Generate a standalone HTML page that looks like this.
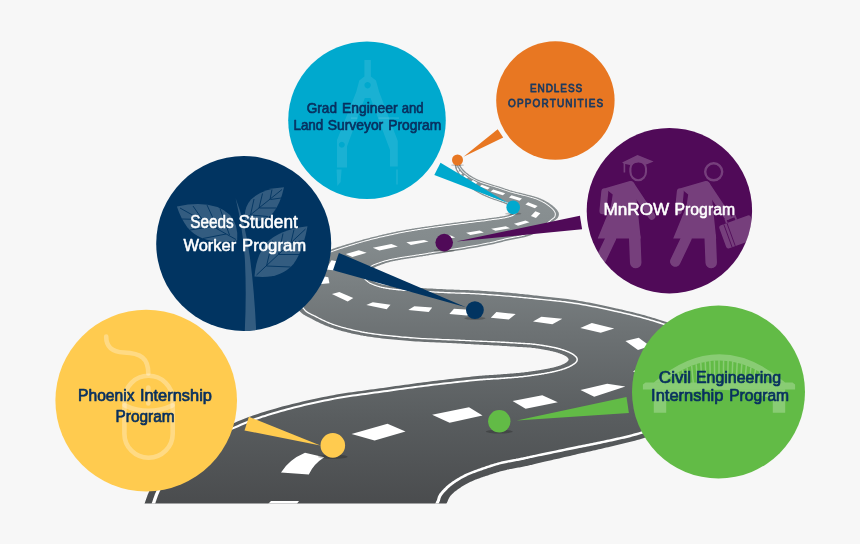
<!DOCTYPE html>
<html><head><meta charset="utf-8"><title>Career Pathways</title>
<style>
html,body{margin:0;padding:0;background:#f7f7f7;}
body{width:860px;height:544px;overflow:hidden;font-family:"Liberation Sans",sans-serif;}
svg{display:block;}
</style></head><body>
<svg width="860" height="544" viewBox="0 0 860 544">
<defs>
<linearGradient id="rg" gradientUnits="userSpaceOnUse" x1="0" y1="160" x2="0" y2="504">
<stop offset="0" stop-color="#8f9698"/><stop offset="0.25" stop-color="#838a8c"/><stop offset="0.5" stop-color="#6d7274"/><stop offset="0.75" stop-color="#595d5f"/><stop offset="1" stop-color="#4a4c4e"/>
</linearGradient>
<mask id="tm" maskUnits="userSpaceOnUse" x="0" y="0" width="860" height="544"><rect width="860" height="544" fill="#fff"/></mask>
<clipPath id="clip"><rect x="0" y="0" width="860" height="503.5"/></clipPath>
</defs>
<rect width="860" height="544" fill="#f7f7f7"/>
<g clip-path="url(#clip)">
<polygon points="140.5,515.0 140.8,514.3 141.0,513.6 141.3,512.8 141.5,512.1 141.8,511.4 142.0,510.7 142.3,510.0 142.5,509.3 142.8,508.5 143.0,507.8 143.3,507.1 143.6,506.4 143.8,505.7 144.1,504.9 144.3,504.2 144.6,503.5 144.9,502.8 145.1,502.0 145.4,501.3 145.6,500.6 145.9,499.9 146.1,499.1 146.4,498.4 146.6,497.7 146.9,497.0 147.2,496.2 147.4,495.5 147.7,494.7 148.0,494.0 148.4,493.2 148.7,492.4 149.1,491.6 149.6,490.5 150.1,489.4 150.7,488.3 151.2,487.2 151.8,486.1 152.4,484.9 153.1,483.7 153.7,482.5 154.4,481.3 155.1,480.2 155.8,479.0 156.6,477.8 157.4,476.6 158.2,475.4 159.1,474.2 160.0,473.0 161.2,471.5 162.4,470.0 163.7,468.5 165.1,467.0 166.5,465.4 167.9,463.9 169.4,462.4 170.9,460.9 172.5,459.3 174.2,457.8 175.8,456.3 177.6,454.8 179.4,453.3 181.2,451.9 183.1,450.4 185.0,449.0 187.6,447.2 190.3,445.4 193.2,443.6 196.2,441.8 199.3,440.0 202.5,438.2 205.8,436.4 209.1,434.7 212.5,433.0 215.8,431.3 219.2,429.7 222.5,428.2 225.8,426.6 229.1,425.2 232.2,423.7 235.3,422.4 237.9,421.3 240.5,420.2 243.0,419.2 245.5,418.2 248.0,417.3 250.4,416.4 252.9,415.5 255.3,414.7 257.8,413.9 260.3,413.1 262.8,412.3 265.3,411.5 267.8,410.7 270.4,410.0 273.1,409.2 275.8,408.4 279.0,407.5 282.2,406.6 285.5,405.7 288.8,404.9 292.2,404.0 295.6,403.2 299.0,402.4 302.5,401.6 305.9,400.8 309.4,400.0 312.9,399.3 316.4,398.5 319.8,397.8 323.3,397.1 326.6,396.4 330.0,395.8 333.2,395.2 336.3,394.6 339.5,394.1 342.6,393.6 345.7,393.1 348.9,392.6 352.0,392.2 355.1,391.7 358.2,391.3 361.3,390.9 364.4,390.4 367.5,390.0 370.6,389.6 373.8,389.2 376.9,388.7 380.0,388.3 383.1,387.9 386.2,387.4 389.4,387.0 392.5,386.5 395.6,386.1 398.7,385.7 401.9,385.2 405.0,384.8 408.1,384.4 411.2,383.9 414.4,383.5 417.5,383.1 420.6,382.7 423.7,382.3 426.9,381.9 430.0,381.5 433.2,381.1 436.4,380.7 439.7,380.3 443.0,379.9 446.4,379.5 449.7,379.1 453.1,378.7 456.4,378.3 459.7,377.9 462.9,377.6 466.0,377.2 469.1,376.9 472.0,376.6 474.8,376.3 477.5,376.0 480.0,375.8 481.5,375.7 482.9,375.5 484.3,375.4 485.6,375.3 486.9,375.2 488.2,375.2 489.4,375.1 490.6,375.0 491.7,374.9 492.9,374.9 494.1,374.8 495.2,374.7 496.4,374.7 497.6,374.6 498.8,374.5 500.0,374.4 501.3,374.3 502.5,374.2 503.8,374.1 505.1,374.0 506.5,373.9 507.8,373.8 509.1,373.7 510.4,373.6 511.7,373.5 512.9,373.4 514.2,373.3 515.4,373.2 516.6,373.1 517.8,373.0 518.9,372.9 520.0,372.8 520.8,372.7 521.5,372.6 522.3,372.6 523.0,372.5 523.7,372.4 524.4,372.3 525.0,372.2 525.7,372.1 526.4,372.0 527.0,372.0 527.7,371.9 528.3,371.8 529.0,371.7 529.6,371.6 530.3,371.5 531.0,371.4 531.7,371.3 532.4,371.2 533.1,371.1 533.8,371.0 534.5,370.9 535.2,370.8 535.9,370.7 536.6,370.6 537.2,370.5 537.9,370.4 538.6,370.3 539.3,370.2 540.0,370.1 540.7,369.9 541.4,369.8 542.1,369.7 542.8,369.6 543.5,369.5 544.2,369.3 544.9,369.2 545.6,369.1 546.3,368.9 547.0,368.8 547.7,368.7 548.4,368.5 549.1,368.4 549.8,368.3 550.4,368.1 551.1,368.0 551.8,367.8 552.4,367.7 553.1,367.5 553.7,367.4 554.3,367.2 554.9,367.0 555.4,366.9 556.0,366.7 556.6,366.6 557.2,366.4 557.7,366.3 558.3,366.1 558.9,365.9 559.4,365.7 559.9,365.6 560.4,365.4 560.9,365.2 561.4,365.0 561.9,364.8 562.3,364.6 562.6,364.5 563.0,364.3 563.3,364.2 563.7,364.0 564.0,363.8 564.4,363.7 564.7,363.5 565.0,363.3 565.3,363.1 565.6,362.9 565.9,362.8 566.2,362.6 566.4,362.4 566.7,362.2 566.9,362.0 567.1,361.9 567.2,361.7 567.4,361.6 567.5,361.4 567.7,361.3 567.8,361.1 567.9,361.0 568.1,360.8 568.2,360.7 568.3,360.5 568.4,360.4 568.4,360.2 568.5,360.1 568.6,359.9 568.6,359.8 568.6,359.6 568.6,359.4 568.6,359.3 568.5,359.1 568.5,358.9 568.4,358.8 568.3,358.6 568.2,358.4 568.1,358.3 567.9,358.1 567.8,357.9 567.7,357.8 567.5,357.6 567.4,357.5 567.2,357.3 567.1,357.1 566.9,357.0 566.7,356.8 566.4,356.6 566.2,356.4 565.9,356.2 565.6,356.1 565.3,355.9 565.0,355.7 564.7,355.6 564.4,355.4 564.0,355.2 563.7,355.1 563.3,354.9 563.0,354.8 562.6,354.6 562.3,354.5 561.9,354.3 561.4,354.1 560.9,353.9 560.4,353.7 559.9,353.5 559.4,353.3 558.8,353.2 558.3,353.0 557.7,352.8 557.2,352.6 556.6,352.5 556.0,352.3 555.4,352.1 554.9,352.0 554.3,351.8 553.7,351.7 553.1,351.5 552.5,351.3 551.8,351.2 551.1,351.0 550.4,350.9 549.8,350.7 549.1,350.6 548.4,350.4 547.7,350.3 547.0,350.2 546.3,350.0 545.6,349.9 544.9,349.8 544.2,349.7 543.5,349.5 542.8,349.4 542.1,349.3 541.4,349.2 540.7,349.1 540.0,349.0 539.3,348.8 538.6,348.7 537.9,348.6 537.3,348.5 536.6,348.4 535.9,348.3 535.2,348.2 534.5,348.1 533.8,348.0 533.1,347.9 532.4,347.9 531.7,347.8 531.0,347.7 530.3,347.6 529.6,347.6 529.0,347.5 528.3,347.5 527.7,347.4 527.0,347.4 526.4,347.3 525.7,347.3 525.0,347.3 524.4,347.2 523.7,347.2 523.0,347.2 522.3,347.1 521.5,347.1 520.8,347.0 520.0,347.0 518.9,346.9 517.8,346.9 516.6,346.8 515.4,346.7 514.2,346.6 512.9,346.5 511.7,346.4 510.4,346.4 509.1,346.3 507.8,346.2 506.4,346.1 505.1,346.0 503.8,345.9 502.5,345.9 501.3,345.8 500.0,345.7 498.8,345.6 497.5,345.6 496.3,345.5 495.0,345.4 493.8,345.4 492.6,345.3 491.4,345.3 490.1,345.2 488.9,345.1 487.6,345.1 486.4,345.0 485.1,345.0 483.9,344.9 482.6,344.8 481.3,344.8 480.0,344.7 478.6,344.6 477.1,344.5 475.7,344.5 474.3,344.4 472.9,344.3 471.4,344.2 470.0,344.1 468.5,344.0 467.0,343.9 465.5,343.9 464.0,343.8 462.4,343.7 460.8,343.6 459.2,343.5 457.5,343.4 455.8,343.3 453.3,343.2 450.8,343.1 448.1,342.9 445.3,342.8 442.5,342.7 439.6,342.6 436.7,342.5 433.7,342.3 430.7,342.2 427.7,342.1 424.7,341.9 421.7,341.8 418.7,341.6 415.7,341.4 412.8,341.2 410.0,341.0 407.3,340.8 404.5,340.6 401.7,340.3 398.9,340.1 396.0,339.8 393.2,339.5 390.4,339.3 387.6,339.0 384.9,338.7 382.1,338.4 379.5,338.1 376.9,337.7 374.3,337.4 371.9,337.1 369.5,336.7 367.2,336.4 365.6,336.1 364.0,335.9 362.5,335.6 361.1,335.4 359.6,335.1 358.2,334.8 356.8,334.5 355.5,334.3 354.1,334.0 352.8,333.7 351.5,333.4 350.2,333.1 348.9,332.8 347.6,332.5 346.3,332.1 345.0,331.8 343.8,331.5 342.7,331.2 341.5,330.9 340.4,330.5 339.2,330.2 338.1,329.9 337.0,329.6 335.8,329.2 334.7,328.9 333.6,328.5 332.6,328.1 331.5,327.8 330.4,327.4 329.3,327.0 328.3,326.6 327.2,326.2 326.2,325.8 325.2,325.4 324.2,325.0 323.2,324.5 322.2,324.1 321.3,323.7 320.3,323.2 319.3,322.8 318.4,322.3 317.4,321.8 316.5,321.4 315.6,320.9 314.7,320.4 313.8,319.9 312.9,319.5 312.0,319.0 311.2,318.6 310.4,318.2 309.7,317.8 308.9,317.4 308.2,317.1 307.4,316.7 306.7,316.3 306.0,315.9 305.2,315.5 304.5,315.1 303.8,314.7 303.1,314.2 302.5,313.7 301.8,313.2 301.1,312.6 300.5,312.0 299.7,311.2 298.9,310.3 298.1,309.4 297.3,308.5 296.5,307.5 295.8,306.4 295.0,305.3 294.3,304.2 293.6,303.1 292.9,302.0 292.3,300.8 291.7,299.6 291.2,298.5 290.7,297.3 290.3,296.1 290.0,295.0 289.7,293.9 289.5,292.7 289.3,291.5 289.2,290.3 289.1,289.1 289.0,287.9 289.0,286.7 289.1,285.4 289.1,284.2 289.3,283.0 289.4,281.7 289.7,280.5 289.9,279.4 290.2,278.2 290.6,277.1 291.0,276.0 291.5,274.9 292.1,273.8 292.7,272.6 293.4,271.6 294.1,270.5 294.9,269.4 295.8,268.4 296.7,267.3 297.6,266.3 298.6,265.4 299.6,264.4 300.6,263.5 301.7,262.5 302.8,261.7 303.9,260.8 305.0,260.0 306.4,259.1 307.8,258.2 309.3,257.4 310.9,256.7 312.6,255.9 314.3,255.2 316.0,254.6 317.8,253.9 319.5,253.3 321.3,252.7 323.1,252.1 324.8,251.6 326.5,251.0 328.1,250.5 329.7,249.9 331.2,249.4 332.3,249.0 333.5,248.6 334.6,248.2 335.7,247.8 336.7,247.5 337.8,247.1 338.8,246.8 339.9,246.5 340.9,246.2 341.9,245.8 342.9,245.5 343.9,245.2 344.9,244.9 345.9,244.6 346.9,244.3 347.9,244.0 348.8,243.7 349.7,243.4 350.6,243.2 351.4,242.9 352.3,242.7 353.2,242.4 354.0,242.2 354.9,241.9 355.7,241.6 356.6,241.4 357.4,241.2 358.3,240.9 359.2,240.7 360.1,240.4 361.0,240.2 361.9,239.9 363.0,239.6 364.0,239.3 365.1,239.0 366.2,238.7 367.3,238.5 368.4,238.2 369.5,237.9 370.6,237.6 371.8,237.3 372.9,237.0 374.1,236.7 375.2,236.4 376.4,236.2 377.6,235.9 378.8,235.6 380.0,235.3 381.4,235.0 382.8,234.6 384.3,234.3 385.8,234.0 387.3,233.6 388.8,233.3 390.4,233.0 391.9,232.6 393.5,232.3 395.0,232.0 396.5,231.6 398.0,231.3 399.5,231.0 400.9,230.7 402.3,230.5 403.7,230.2 404.8,230.0 405.9,229.8 406.9,229.6 407.9,229.4 409.0,229.3 410.0,229.1 410.9,228.9 411.9,228.8 412.9,228.6 413.9,228.4 414.9,228.3 415.9,228.1 416.9,228.0 417.9,227.8 418.9,227.7 420.0,227.5 421.2,227.3 422.4,227.1 423.6,227.0 424.8,226.8 426.0,226.6 427.3,226.4 428.5,226.2 429.7,226.0 431.0,225.9 432.3,225.7 433.5,225.5 434.8,225.3 436.1,225.1 437.4,225.0 438.7,224.8 440.0,224.6 441.5,224.4 442.9,224.2 444.4,224.0 445.9,223.8 447.4,223.6 449.0,223.4 450.5,223.2 452.0,223.0 453.6,222.8 455.1,222.6 456.7,222.4 458.2,222.2 459.8,222.0 461.3,221.8 462.9,221.6 464.4,221.4 465.9,221.2 467.5,221.0 469.0,220.8 470.6,220.6 472.2,220.4 473.8,220.2 475.3,220.0 476.9,219.8 478.5,219.6 480.0,219.5 481.5,219.3 483.0,219.1 484.5,218.9 486.0,218.7 487.4,218.5 488.8,218.3 489.9,218.1 491.1,218.0 492.2,217.8 493.3,217.7 494.4,217.5 495.5,217.4 496.6,217.3 497.7,217.1 498.7,217.0 499.7,216.8 500.7,216.6 501.7,216.5 502.6,216.3 503.5,216.2 504.3,216.0 505.1,215.8 505.6,215.7 506.0,215.6 506.4,215.5 506.9,215.4 507.3,215.3 507.7,215.2 508.1,215.0 508.4,214.9 508.8,214.8 509.1,214.7 509.5,214.6 509.8,214.4 510.1,214.3 510.4,214.1 510.7,214.0 511.0,213.8 511.2,213.7 511.4,213.5 511.6,213.4 511.9,213.2 512.1,213.0 512.3,212.9 512.5,212.7 512.6,212.5 512.8,212.3 513.0,212.1 513.1,212.0 513.2,211.8 513.3,211.6 513.4,211.4 513.5,211.2 513.5,211.0 513.5,210.8 513.5,210.6 513.4,210.4 513.4,210.2 513.3,209.9 513.2,209.7 513.1,209.5 512.9,209.2 512.8,209.0 512.6,208.8 512.5,208.6 512.3,208.3 512.1,208.1 511.9,207.9 511.7,207.7 511.5,207.5 511.2,207.2 510.9,207.0 510.6,206.7 510.3,206.5 509.9,206.3 509.6,206.0 509.2,205.8 508.8,205.6 508.4,205.4 507.9,205.1 507.5,204.9 507.0,204.7 506.6,204.5 506.1,204.3 505.6,204.0 505.1,203.8 504.3,203.4 503.4,203.1 502.5,202.7 501.5,202.4 500.5,202.0 499.5,201.7 498.4,201.3 497.4,201.0 496.3,200.6 495.2,200.3 494.1,199.9 493.0,199.5 491.9,199.1 490.8,198.7 489.8,198.3 488.8,197.9 487.8,197.5 486.9,197.1 485.9,196.7 485.0,196.2 484.0,195.8 483.1,195.4 482.1,194.9 481.2,194.5 480.3,194.0 479.4,193.5 478.5,193.1 477.6,192.6 476.7,192.1 475.8,191.6 475.0,191.0 474.2,190.5 473.5,190.0 472.8,189.5 472.1,189.0 471.4,188.4 470.7,187.9 470.0,187.3 469.4,186.8 468.7,186.2 468.1,185.6 467.5,185.0 466.9,184.4 466.3,183.9 465.7,183.3 465.1,182.7 464.5,182.1 464.0,181.5 463.5,181.0 463.1,180.4 462.6,179.9 462.1,179.4 461.7,178.8 461.3,178.3 460.8,177.7 460.4,177.2 460.0,176.6 459.6,176.1 459.3,175.5 458.9,175.0 458.6,174.5 458.2,173.9 457.9,173.4 457.6,172.9 457.4,172.5 457.1,172.1 456.9,171.7 456.7,171.2 456.5,170.8 456.3,170.4 456.1,170.0 455.9,169.6 455.7,169.2 455.5,168.8 455.4,168.4 455.3,168.0 455.1,167.6 455.0,167.3 455.0,166.9 454.9,166.6 454.9,166.4 454.9,166.2 454.9,166.0 454.9,165.8 454.9,165.6 454.9,165.4 454.9,165.2 454.9,165.0 455.0,164.8 455.0,164.6 455.0,164.4 455.1,164.3 455.1,164.1 455.2,163.9 455.2,163.7 455.2,163.5 459.9,163.5 460.0,163.7 460.0,163.9 460.1,164.0 460.1,164.2 460.2,164.4 460.2,164.6 460.3,164.7 460.3,164.9 460.4,165.1 460.5,165.3 460.5,165.4 460.6,165.6 460.7,165.8 460.8,166.0 460.9,166.2 461.0,166.4 461.2,166.7 461.4,167.1 461.7,167.4 461.9,167.8 462.2,168.2 462.5,168.5 462.9,168.9 463.2,169.3 463.5,169.7 463.9,170.1 464.3,170.5 464.7,170.9 465.1,171.3 465.5,171.7 465.9,172.0 466.3,172.4 466.9,172.9 467.5,173.3 468.1,173.8 468.7,174.3 469.3,174.7 470.0,175.2 470.7,175.6 471.4,176.1 472.2,176.5 472.9,177.0 473.7,177.4 474.5,177.8 475.3,178.3 476.1,178.7 476.9,179.1 477.8,179.5 479.0,180.0 480.3,180.6 481.6,181.1 483.1,181.6 484.5,182.1 486.0,182.6 487.6,183.1 489.1,183.6 490.7,184.0 492.2,184.5 493.7,184.9 495.2,185.4 496.6,185.8 498.0,186.2 499.3,186.6 500.5,187.0 501.3,187.3 502.1,187.5 502.8,187.8 503.5,188.0 504.1,188.2 504.8,188.4 505.5,188.7 506.1,188.9 506.7,189.1 507.4,189.3 508.0,189.5 508.7,189.7 509.4,189.9 510.1,190.2 510.8,190.4 511.6,190.6 512.7,190.9 513.8,191.2 515.0,191.5 516.3,191.9 517.6,192.2 518.9,192.5 520.2,192.8 521.5,193.1 522.9,193.5 524.2,193.8 525.5,194.1 526.7,194.4 527.9,194.7 529.1,195.0 530.2,195.3 531.2,195.6 531.9,195.8 532.5,196.0 533.1,196.1 533.7,196.3 534.3,196.5 534.8,196.6 535.4,196.8 535.9,197.0 536.4,197.1 536.9,197.3 537.5,197.5 538.0,197.6 538.5,197.8 539.0,198.0 539.5,198.2 540.0,198.4 540.5,198.6 541.0,198.8 541.4,199.0 541.9,199.2 542.4,199.4 542.8,199.6 543.3,199.8 543.7,200.0 544.2,200.3 544.6,200.5 545.1,200.7 545.5,200.9 545.9,201.2 546.4,201.4 546.8,201.7 547.2,201.9 547.6,202.1 548.0,202.4 548.4,202.6 548.8,202.9 549.2,203.1 549.5,203.4 549.9,203.7 550.3,203.9 550.7,204.2 551.0,204.5 551.4,204.7 551.7,205.0 552.1,205.3 552.4,205.5 552.8,205.8 553.1,206.1 553.4,206.4 553.7,206.6 554.0,206.9 554.3,207.1 554.6,207.4 554.9,207.6 555.1,207.9 555.4,208.2 555.7,208.4 556.0,208.7 556.2,209.0 556.4,209.2 556.7,209.5 556.9,209.8 557.1,210.0 557.3,210.3 557.4,210.5 557.6,210.7 557.7,211.0 557.9,211.2 558.0,211.4 558.1,211.6 558.3,211.9 558.4,212.1 558.5,212.3 558.6,212.5 558.7,212.8 558.7,213.0 558.8,213.2 558.8,213.4 558.9,213.7 558.9,213.9 558.9,214.1 558.9,214.4 558.9,214.6 558.9,214.8 558.8,215.0 558.8,215.3 558.7,215.5 558.7,215.7 558.6,216.0 558.5,216.2 558.4,216.4 558.4,216.6 558.2,216.9 558.1,217.1 558.0,217.3 557.9,217.5 557.8,217.7 557.6,217.9 557.4,218.2 557.2,218.4 557.0,218.6 556.8,218.8 556.6,218.9 556.4,219.1 556.1,219.3 555.9,219.5 555.6,219.7 555.4,219.9 555.1,220.1 554.9,220.3 554.6,220.6 554.3,220.8 553.8,221.2 553.4,221.6 552.9,222.0 552.4,222.5 551.9,222.9 551.3,223.4 550.7,223.9 550.2,224.4 549.6,224.9 549.0,225.4 548.3,225.9 547.7,226.4 547.0,226.8 546.4,227.3 545.7,227.8 545.0,228.2 544.1,228.7 543.2,229.3 542.2,229.8 541.2,230.4 540.2,230.9 539.1,231.5 538.0,232.0 537.0,232.5 535.8,233.0 534.7,233.5 533.6,234.0 532.5,234.5 531.3,235.0 530.2,235.4 529.0,235.8 527.9,236.2 526.7,236.6 525.5,236.9 524.3,237.3 523.1,237.6 521.8,237.8 520.6,238.1 519.3,238.3 518.1,238.6 516.8,238.8 515.5,239.0 514.3,239.3 513.0,239.5 511.7,239.7 510.5,240.0 509.2,240.2 508.0,240.5 506.8,240.8 505.6,241.1 504.5,241.3 503.4,241.6 502.3,241.9 501.2,242.2 500.1,242.5 498.9,242.7 497.8,243.0 496.6,243.3 495.5,243.6 494.2,243.9 493.0,244.2 491.6,244.5 490.2,244.8 488.8,245.1 486.3,245.6 483.7,246.1 480.8,246.6 477.8,247.2 474.7,247.7 471.4,248.3 468.1,248.8 464.8,249.4 461.4,249.9 458.1,250.5 454.8,251.0 451.6,251.5 448.5,252.0 445.5,252.5 442.6,253.0 440.0,253.4 438.2,253.7 436.4,254.0 434.7,254.3 433.0,254.6 431.3,254.8 429.7,255.1 428.1,255.4 426.5,255.6 425.0,255.9 423.5,256.1 422.0,256.4 420.5,256.6 419.1,256.8 417.7,257.1 416.3,257.3 415.0,257.5 414.0,257.7 413.1,257.8 412.2,257.9 411.3,258.1 410.4,258.2 409.6,258.3 408.8,258.4 407.9,258.6 407.1,258.7 406.3,258.8 405.5,258.9 404.7,259.0 403.9,259.2 403.1,259.3 402.2,259.5 401.4,259.6 400.6,259.8 399.7,259.9 398.8,260.1 398.0,260.2 397.1,260.4 396.2,260.6 395.3,260.7 394.5,260.9 393.6,261.1 392.8,261.3 391.9,261.5 391.1,261.6 390.3,261.8 389.6,262.0 388.8,262.2 388.1,262.4 387.6,262.5 387.1,262.7 386.6,262.8 386.1,263.0 385.7,263.1 385.2,263.3 384.8,263.4 384.4,263.6 383.9,263.7 383.5,263.9 383.1,264.0 382.7,264.2 382.3,264.3 381.8,264.5 381.4,264.6 381.0,264.8 380.6,265.0 380.2,265.1 379.8,265.2 379.4,265.4 379.0,265.5 378.6,265.7 378.2,265.8 377.8,266.0 377.5,266.1 377.1,266.3 376.7,266.5 376.3,266.6 376.0,266.8 375.6,267.0 375.2,267.2 374.9,267.4 374.6,267.6 374.2,267.8 373.9,268.1 373.5,268.3 373.2,268.5 372.8,268.8 372.5,269.0 372.1,269.3 371.8,269.5 371.5,269.8 371.2,270.1 370.9,270.3 370.7,270.6 370.4,270.9 370.2,271.2 370.0,271.5 369.8,271.8 369.7,272.1 369.5,272.4 369.4,272.7 369.2,273.0 369.1,273.3 369.0,273.6 368.9,274.0 368.8,274.3 368.8,274.6 368.7,275.0 368.7,275.3 368.7,275.6 368.7,275.9 368.7,276.2 368.8,276.5 368.9,276.8 369.0,277.1 369.1,277.4 369.3,277.7 369.5,278.0 369.7,278.3 369.9,278.5 370.2,278.8 370.4,279.1 370.7,279.3 371.0,279.6 371.3,279.9 371.6,280.1 371.9,280.3 372.2,280.6 372.5,280.8 372.9,281.1 373.3,281.3 373.7,281.5 374.1,281.7 374.5,281.9 375.0,282.1 375.4,282.3 375.9,282.5 376.4,282.7 376.9,282.9 377.4,283.0 377.9,283.2 378.3,283.3 378.8,283.5 379.3,283.7 379.8,283.8 380.3,284.0 380.8,284.1 381.3,284.2 381.8,284.4 382.3,284.5 382.8,284.6 383.3,284.7 383.8,284.8 384.3,284.9 384.8,285.0 385.3,285.1 385.9,285.2 386.4,285.3 387.0,285.4 387.5,285.5 388.1,285.6 388.8,285.7 389.6,285.8 390.3,285.9 391.1,286.0 391.9,286.1 392.7,286.2 393.5,286.3 394.3,286.4 395.2,286.5 396.0,286.5 396.9,286.6 397.7,286.7 398.6,286.8 399.5,286.9 400.5,286.9 401.4,287.0 402.7,287.1 403.9,287.2 405.3,287.3 406.6,287.3 408.0,287.4 409.4,287.5 410.9,287.6 412.3,287.6 413.8,287.7 415.3,287.8 416.8,287.8 418.3,287.9 419.7,288.0 421.2,288.1 422.7,288.1 424.2,288.2 425.8,288.3 427.4,288.4 428.9,288.4 430.6,288.5 432.2,288.6 433.8,288.7 435.4,288.8 437.0,288.9 438.7,289.0 440.3,289.0 441.9,289.1 443.6,289.2 445.2,289.3 446.8,289.4 448.4,289.4 450.0,289.5 451.5,289.6 453.0,289.6 454.5,289.7 456.0,289.7 457.5,289.8 459.0,289.8 460.4,289.9 461.9,289.9 463.4,290.0 464.9,290.0 466.4,290.1 468.0,290.1 469.5,290.2 471.1,290.2 472.7,290.3 474.4,290.4 476.5,290.5 478.7,290.6 481.0,290.8 483.3,290.9 485.6,291.1 488.0,291.2 490.4,291.4 492.8,291.5 495.3,291.7 497.7,291.9 500.1,292.1 502.5,292.2 504.8,292.4 507.1,292.6 509.4,292.8 511.6,293.0 513.5,293.2 515.3,293.3 517.1,293.5 518.9,293.7 520.6,293.9 522.4,294.0 524.1,294.2 525.8,294.4 527.5,294.6 529.2,294.8 531.0,295.0 532.7,295.2 534.5,295.4 536.3,295.6 538.1,295.8 540.0,296.0 542.2,296.2 544.4,296.5 546.7,296.7 549.0,297.0 551.3,297.2 553.6,297.5 555.9,297.7 558.3,298.0 560.7,298.3 563.0,298.5 565.4,298.8 567.8,299.1 570.2,299.5 572.5,299.8 574.9,300.1 577.2,300.5 579.5,300.9 581.9,301.3 584.3,301.7 586.6,302.2 589.0,302.6 591.4,303.1 593.8,303.6 596.2,304.0 598.5,304.5 600.9,305.0 603.2,305.5 605.5,306.0 607.8,306.5 610.0,307.0 612.2,307.5 614.4,308.0 616.3,308.4 618.1,308.8 619.9,309.2 621.7,309.6 623.5,310.0 625.3,310.4 627.0,310.9 628.7,311.3 630.5,311.7 632.2,312.1 633.9,312.5 635.6,312.9 637.3,313.4 638.9,313.8 640.6,314.2 642.3,314.7 643.9,315.1 645.4,315.5 646.8,316.0 648.3,316.4 649.7,316.8 651.2,317.2 652.6,317.7 654.0,318.1 655.5,318.5 656.9,319.0 658.4,319.5 659.9,320.0 661.5,320.5 663.1,321.0 664.8,321.5 666.5,322.1 669.1,322.9 671.9,323.8 674.8,324.6 677.8,325.5 681.0,326.4 684.2,327.3 687.4,328.3 690.7,329.2 694.0,330.3 697.2,331.3 700.4,332.5 703.6,333.7 706.6,334.9 709.6,336.2 712.4,337.6 715.0,339.0 717.3,340.3 719.6,341.7 722.0,343.1 724.3,344.6 726.6,346.1 728.9,347.7 731.2,349.3 733.3,350.9 735.4,352.6 737.3,354.3 739.1,356.0 740.7,357.8 742.1,359.6 743.3,361.4 744.3,363.2 745.0,365.0 745.4,366.6 745.7,368.2 745.8,369.9 745.8,371.6 745.6,373.3 745.4,375.1 745.0,376.8 744.6,378.6 744.0,380.4 743.4,382.1 742.6,383.9 741.8,385.6 741.0,387.3 740.0,388.9 739.0,390.5 738.0,392.0 736.5,393.9 734.9,395.7 733.0,397.4 731.0,399.1 728.9,400.8 726.6,402.4 724.2,404.0 721.7,405.6 719.1,407.1 716.4,408.5 713.7,410.0 711.0,411.4 708.2,412.8 705.5,414.2 702.7,415.6 700.0,417.0 696.8,418.6 693.5,420.1 690.1,421.6 686.6,423.1 683.0,424.5 679.4,426.0 675.7,427.3 672.0,428.7 668.3,430.0 664.6,431.3 661.0,432.5 657.4,433.7 653.9,434.9 650.5,436.0 647.2,437.0 644.0,438.0 641.7,438.7 639.4,439.4 637.1,440.0 634.9,440.7 632.7,441.2 630.6,441.8 628.5,442.3 626.4,442.8 624.3,443.3 622.3,443.8 620.2,444.3 618.2,444.8 616.1,445.2 614.1,445.7 612.1,446.2 610.0,446.7 608.1,447.2 606.2,447.6 604.3,448.1 602.5,448.5 600.6,448.9 598.8,449.3 597.0,449.7 595.2,450.2 593.3,450.6 591.5,451.0 589.6,451.4 587.8,451.8 585.9,452.3 583.9,452.7 582.0,453.1 580.0,453.6 577.6,454.1 575.1,454.7 572.6,455.3 570.0,455.9 567.3,456.5 564.6,457.1 561.9,457.8 559.2,458.4 556.5,459.0 553.8,459.6 551.3,460.2 548.8,460.8 546.4,461.3 544.1,461.8 542.0,462.3 540.0,462.8 538.9,463.1 537.8,463.3 536.8,463.6 535.8,463.8 534.8,464.0 533.9,464.2 533.0,464.5 532.2,464.7 531.3,464.9 530.4,465.1 529.6,465.3 528.7,465.5 527.8,465.7 526.9,465.9 526.0,466.1 525.0,466.3 523.9,466.5 522.8,466.8 521.6,467.0 520.5,467.2 519.3,467.4 518.1,467.6 517.0,467.8 515.8,468.0 514.6,468.2 513.4,468.4 512.2,468.7 511.0,468.9 509.9,469.1 508.7,469.4 507.5,469.6 506.4,469.9 505.3,470.2 504.2,470.5 503.1,470.7 502.0,471.0 500.9,471.3 499.8,471.6 498.7,472.0 497.6,472.3 496.6,472.6 495.5,472.9 494.4,473.3 493.3,473.6 492.2,473.9 491.2,474.3 490.1,474.6 489.0,475.0 487.9,475.4 486.8,475.7 485.7,476.1 484.6,476.5 483.4,476.8 482.3,477.2 481.2,477.6 480.1,478.0 479.0,478.4 477.9,478.8 476.8,479.2 475.7,479.6 474.6,480.0 473.6,480.5 472.5,480.9 471.5,481.4 470.6,481.8 469.6,482.3 468.7,482.8 467.8,483.3 466.8,483.8 465.9,484.3 465.0,484.8 464.1,485.3 463.2,485.8 462.4,486.3 461.5,486.8 460.7,487.4 459.9,487.9 459.1,488.4 458.3,489.0 457.6,489.5 457.0,489.9 456.5,490.4 455.9,490.8 455.4,491.2 454.8,491.6 454.3,492.1 453.8,492.5 453.3,492.9 452.9,493.4 452.4,493.8 451.9,494.3 451.5,494.7 451.1,495.2 450.7,495.6 450.3,496.1 450.0,496.5 449.7,496.9 449.5,497.2 449.3,497.5 449.1,497.9 448.9,498.2 448.8,498.6 448.6,498.9 448.4,499.2 448.3,499.6 448.1,499.9 448.0,500.3 447.8,500.7 447.7,501.1 447.5,501.5 447.3,501.9 447.1,502.3 446.8,503.0 446.4,503.7 446.1,504.4 445.7,505.1 445.4,505.9 445.0,506.7 444.6,507.5 444.2,508.3 443.8,509.2 443.4,510.0 443.0,510.9 442.6,511.7 442.2,512.5 441.8,513.4 441.4,514.2 441.0,515.0" fill="url(#rg)"/>
<polygon points="150.4,517.0 150.6,516.3 150.9,515.6 151.2,514.9 151.4,514.2 151.7,513.4 151.9,512.7 152.2,512.0 152.4,511.3 152.7,510.6 152.9,509.9 153.2,509.2 153.4,508.4 153.7,507.7 153.9,507.0 154.2,506.3 154.5,505.6 154.8,504.8 155.0,504.0 155.3,503.3 155.6,502.6 155.8,501.8 156.0,501.1 156.3,500.4 156.5,499.7 156.7,499.0 157.0,498.4 157.2,497.7 157.5,497.0 157.7,496.3 158.0,495.6 158.2,494.9 158.5,494.2 159.0,493.2 159.5,492.1 160.0,491.0 160.5,489.9 161.0,488.8 161.5,487.7 162.1,486.5 162.6,485.4 163.2,484.3 163.8,483.2 164.4,482.0 165.0,480.9 165.7,479.8 166.3,478.7 167.0,477.6 167.8,476.5 168.8,475.1 170.0,473.6 171.1,472.2 172.3,470.7 173.6,469.2 174.9,467.7 176.2,466.3 177.6,464.8 179.1,463.3 180.6,461.8 182.1,460.4 183.7,458.9 185.3,457.5 187.0,456.1 188.7,454.7 190.4,453.3 192.8,451.5 195.3,449.8 198.0,448.0 200.8,446.2 203.8,444.4 206.9,442.7 210.0,440.9 213.2,439.2 216.4,437.5 219.7,435.8 223.0,434.2 226.2,432.6 229.5,431.1 232.6,429.6 235.7,428.2 238.7,426.9 241.2,425.7 243.7,424.7 246.1,423.7 248.5,422.7 250.9,421.8 253.3,420.9 255.7,420.1 258.1,419.2 260.4,418.4 262.9,417.6 265.3,416.9 267.8,416.1 270.3,415.3 272.8,414.5 275.5,413.8 278.1,413.0 281.2,412.1 284.4,411.2 287.6,410.3 290.9,409.4 294.2,408.6 297.5,407.7 300.9,406.9 304.3,406.1 307.7,405.3 311.2,404.5 314.6,403.7 318.0,403.0 321.4,402.3 324.8,401.6 328.2,400.9 331.5,400.2 334.6,399.6 337.7,399.1 340.8,398.5 343.9,398.0 347.0,397.5 350.0,397.1 353.1,396.6 356.2,396.2 359.3,395.7 362.4,395.3 365.5,394.9 368.6,394.5 371.7,394.1 374.8,393.6 378.0,393.2 381.1,392.8 384.3,392.3 387.4,391.9 390.5,391.4 393.6,391.0 396.7,390.6 399.8,390.1 403.0,389.7 406.1,389.3 409.2,388.8 412.3,388.4 415.4,388.0 418.5,387.6 421.7,387.2 424.8,386.8 427.9,386.4 431.0,386.0 434.2,385.6 437.4,385.2 440.7,384.8 444.0,384.5 447.4,384.1 450.7,383.7 454.1,383.3 457.4,382.9 460.6,382.6 463.8,382.2 467.0,381.9 470.0,381.6 472.9,381.3 475.7,381.0 478.3,380.8 480.8,380.5 482.2,380.4 483.6,380.3 485.0,380.2 486.3,380.1 487.5,380.0 488.7,379.9 489.9,379.9 491.1,379.8 492.3,379.7 493.4,379.6 494.6,379.6 495.8,379.5 496.9,379.4 498.2,379.4 499.4,379.3 500.6,379.2 501.9,379.1 503.2,379.0 504.5,378.9 505.8,378.8 507.1,378.7 508.4,378.6 509.7,378.5 511.0,378.4 512.3,378.3 513.6,378.2 514.9,378.1 516.2,378.0 517.4,377.9 518.6,377.8 519.8,377.6 520.9,377.5 521.7,377.4 522.5,377.4 523.3,377.3 524.0,377.2 524.7,377.1 525.5,377.0 526.2,376.9 526.8,376.8 527.5,376.7 528.2,376.7 528.9,376.6 529.5,376.5 530.2,376.4 530.9,376.3 531.5,376.2 532.2,376.1 532.9,376.0 533.6,375.9 534.3,375.8 535.0,375.7 535.7,375.6 536.4,375.5 537.1,375.4 537.9,375.3 538.6,375.2 539.3,375.1 540.0,375.0 540.7,374.9 541.4,374.7 542.2,374.6 542.9,374.5 543.6,374.4 544.3,374.3 545.0,374.1 545.7,374.0 546.4,373.9 547.2,373.7 547.9,373.6 548.6,373.5 549.4,373.3 550.1,373.2 550.8,373.1 551.6,372.9 552.3,372.8 553.0,372.6 553.8,372.4 554.5,372.3 555.2,372.1 555.8,372.0 556.5,371.8 557.1,371.6 557.7,371.5 558.3,371.3 559.0,371.1 559.6,371.0 560.2,370.8 560.9,370.6 561.5,370.4 562.1,370.2 562.8,370.0 563.4,369.8 564.1,369.6 564.7,369.4 565.3,369.2 565.8,369.0 566.2,368.8 566.6,368.7 567.1,368.5 567.5,368.3 568.0,368.1 568.4,367.9 568.9,367.7 569.4,367.5 569.8,367.2 570.3,367.0 570.8,366.8 571.3,366.5 571.8,366.2 572.4,365.9 572.8,365.6 573.1,365.4 573.3,365.3 573.6,365.1 573.9,364.9 574.2,364.7 574.5,364.5 574.9,364.2 575.3,363.9 575.7,363.6 576.1,363.2 576.5,362.8 576.9,362.3 577.3,361.8 577.6,361.2 577.8,360.5 577.9,359.7 577.9,358.9 577.7,358.2 577.4,357.6 577.1,357.0 576.7,356.5 576.3,356.1 575.9,355.7 575.5,355.4 575.2,355.1 574.8,354.8 574.5,354.5 574.1,354.3 573.8,354.0 573.5,353.8 573.2,353.6 572.9,353.4 572.4,353.1 571.8,352.8 571.2,352.5 570.7,352.2 570.2,352.0 569.7,351.7 569.2,351.5 568.7,351.3 568.2,351.1 567.8,350.9 567.3,350.7 566.9,350.6 566.5,350.4 566.1,350.2 565.7,350.1 565.3,349.9 564.7,349.7 564.1,349.5 563.5,349.3 562.8,349.1 562.2,348.9 561.6,348.7 560.9,348.5 560.3,348.3 559.7,348.1 559.0,348.0 558.4,347.8 557.8,347.6 557.1,347.5 556.5,347.3 555.9,347.1 555.2,347.0 554.5,346.8 553.8,346.7 553.0,346.5 552.3,346.4 551.5,346.2 550.8,346.1 550.0,345.9 549.3,345.8 548.6,345.7 547.8,345.5 547.1,345.4 546.4,345.3 545.6,345.2 544.9,345.0 544.2,344.9 543.5,344.8 542.8,344.7 542.1,344.6 541.4,344.5 540.7,344.4 539.9,344.3 539.2,344.2 538.5,344.1 537.8,344.0 537.0,343.9 536.3,343.8 535.5,343.7 534.8,343.6 534.1,343.5 533.3,343.5 532.6,343.4 531.8,343.3 531.1,343.3 530.3,343.2 529.6,343.1 528.9,343.1 528.2,343.0 527.5,343.0 526.8,343.0 526.1,342.9 525.5,342.9 524.8,342.8 524.1,342.8 523.4,342.8 522.7,342.7 522.0,342.7 521.3,342.7 520.5,342.6 519.4,342.5 518.3,342.5 517.2,342.4 516.0,342.3 514.7,342.2 513.5,342.2 512.2,342.1 510.9,342.0 509.6,341.9 508.3,341.8 507.0,341.8 505.6,341.7 504.3,341.6 503.0,341.5 501.7,341.5 500.5,341.4 499.2,341.3 497.9,341.3 496.7,341.2 495.4,341.2 494.2,341.1 493.0,341.1 491.7,341.0 490.5,341.0 489.2,340.9 488.0,340.9 486.8,340.8 485.5,340.8 484.2,340.7 483.0,340.7 481.7,340.6 480.4,340.6 479.0,340.5 477.6,340.4 476.1,340.4 474.7,340.3 473.3,340.2 471.9,340.2 470.4,340.1 469.0,340.1 467.5,340.0 466.0,339.9 464.4,339.8 462.9,339.8 461.3,339.7 459.6,339.6 457.9,339.5 456.2,339.5 453.7,339.3 451.1,339.2 448.4,339.1 445.6,339.0 442.8,338.9 439.9,338.7 437.0,338.6 434.0,338.5 431.0,338.3 428.0,338.2 425.0,338.0 422.1,337.9 419.1,337.7 416.2,337.5 413.4,337.3 410.6,337.1 407.8,336.8 405.1,336.6 402.3,336.4 399.5,336.1 396.7,335.8 393.9,335.6 391.1,335.3 388.4,335.0 385.7,334.7 383.0,334.4 380.4,334.1 377.8,333.7 375.3,333.4 372.9,333.1 370.6,332.7 368.3,332.4 366.8,332.1 365.3,331.9 363.8,331.6 362.4,331.4 361.0,331.1 359.6,330.8 358.3,330.6 357.0,330.3 355.7,330.0 354.4,329.7 353.2,329.4 351.9,329.1 350.7,328.8 349.4,328.5 348.1,328.2 346.9,327.9 345.7,327.6 344.6,327.3 343.5,327.0 342.4,326.7 341.3,326.4 340.2,326.0 339.1,325.7 338.0,325.4 337.0,325.1 335.9,324.7 334.9,324.4 333.9,324.0 332.8,323.7 331.8,323.3 330.8,322.9 329.8,322.5 328.9,322.1 328.0,321.8 327.1,321.4 326.1,320.9 325.2,320.5 324.3,320.1 323.4,319.7 322.4,319.2 321.5,318.8 320.6,318.3 319.7,317.9 318.8,317.4 318.0,317.0 317.1,316.5 316.2,316.1 315.3,315.6 314.5,315.2 313.6,314.8 312.8,314.4 312.0,314.0 311.3,313.7 310.5,313.3 309.9,313.0 309.2,312.6 308.6,312.3 308.1,311.9 307.5,311.6 307.0,311.2 306.5,310.8 306.1,310.4 305.6,309.9 305.2,309.4 304.5,308.7 303.9,307.9 303.2,307.1 302.5,306.2 301.8,305.3 301.1,304.3 300.5,303.3 299.8,302.3 299.3,301.2 298.7,300.2 298.2,299.1 297.7,298.1 297.3,297.1 297.0,296.0 296.7,295.1 296.4,294.1 296.2,293.1 296.1,292.1 295.9,291.0 295.8,290.0 295.7,288.9 295.7,287.8 295.7,286.7 295.7,285.6 295.8,284.5 295.9,283.4 296.0,282.3 296.2,281.3 296.4,280.2 296.6,279.2 296.8,278.3 297.1,277.4 297.4,276.4 297.8,275.4 298.2,274.5 298.7,273.5 299.3,272.5 299.9,271.5 300.5,270.6 301.2,269.6 302.0,268.6 302.8,267.7 303.6,266.8 304.5,265.9 305.4,265.0 306.3,264.1 307.2,263.3 308.2,262.5 309.3,261.7 310.4,260.8 311.7,260.1 313.1,259.3 314.6,258.6 316.2,257.8 317.8,257.2 319.4,256.5 321.1,255.9 322.8,255.2 324.5,254.6 326.2,254.0 327.9,253.5 329.6,252.9 331.2,252.3 332.7,251.8 333.8,251.3 334.9,250.9 336.0,250.5 337.1,250.2 338.1,249.8 339.1,249.5 340.2,249.1 341.2,248.8 342.2,248.5 343.2,248.2 344.2,247.8 345.2,247.5 346.2,247.2 347.2,246.9 348.2,246.6 349.2,246.3 350.1,246.0 350.9,245.7 351.8,245.5 352.7,245.2 353.5,244.9 354.4,244.7 355.2,244.4 356.0,244.1 356.9,243.9 357.7,243.6 358.6,243.4 359.4,243.1 360.3,242.9 361.2,242.6 362.1,242.4 363.0,242.1 364.0,241.8 365.1,241.5 366.2,241.2 367.2,241.0 368.3,240.7 369.4,240.4 370.5,240.1 371.7,239.8 372.8,239.5 373.9,239.2 375.1,239.0 376.2,238.7 377.4,238.4 378.6,238.1 379.7,237.8 380.9,237.5 382.3,237.2 383.8,236.9 385.2,236.5 386.7,236.2 388.2,235.9 389.7,235.5 391.3,235.2 392.8,234.9 394.3,234.5 395.8,234.2 397.3,233.9 398.8,233.6 400.3,233.3 401.7,233.0 403.1,232.7 404.5,232.5 405.5,232.3 406.6,232.1 407.6,231.9 408.6,231.7 409.6,231.5 410.6,231.4 411.6,231.2 412.6,231.0 413.6,230.9 414.5,230.7 415.5,230.6 416.5,230.4 417.5,230.3 418.5,230.1 419.6,229.9 420.6,229.8 421.8,229.6 423.0,229.4 424.2,229.2 425.4,229.0 426.6,228.9 427.9,228.7 429.1,228.5 430.3,228.3 431.6,228.1 432.8,228.0 434.1,227.8 435.4,227.6 436.7,227.4 438.0,227.2 439.3,227.1 440.6,226.9 442.0,226.7 443.5,226.5 445.0,226.3 446.5,226.1 448.0,225.9 449.5,225.7 451.0,225.5 452.6,225.3 454.1,225.1 455.7,224.9 457.2,224.7 458.8,224.5 460.3,224.3 461.9,224.1 463.4,223.9 464.9,223.7 466.5,223.5 468.0,223.3 469.6,223.1 471.1,222.9 472.7,222.7 474.3,222.5 475.8,222.3 477.4,222.1 479.0,221.9 480.5,221.7 482.1,221.5 483.6,221.4 485.1,221.2 486.5,221.0 488.0,220.8 489.4,220.6 490.5,220.4 491.6,220.3 492.7,220.1 493.8,220.0 495.0,219.8 496.1,219.7 497.2,219.5 498.2,219.4 499.3,219.2 500.4,219.1 501.4,218.9 502.4,218.8 503.4,218.6 504.3,218.4 505.2,218.2 506.0,218.0 506.5,217.9 507.0,217.8 507.4,217.7 507.9,217.6 508.3,217.5 508.8,217.4 509.2,217.3 509.6,217.1 510.1,217.0 510.5,216.9 511.0,216.7 511.4,216.5 511.9,216.4 512.4,216.2 512.8,216.0 513.2,215.7 513.5,215.6 513.8,215.4 514.1,215.2 514.4,215.0 514.7,214.8 515.0,214.6 515.3,214.4 515.6,214.1 515.9,213.9 516.2,213.6 516.5,213.3 516.8,213.0 517.0,212.6 517.3,212.2 517.5,211.7 517.6,211.2 517.6,210.7 517.5,210.3 517.4,209.8 517.2,209.4 517.0,209.1 516.7,208.7 516.5,208.4 516.2,208.1 516.0,207.8 515.7,207.5 515.4,207.3 515.2,207.0 514.9,206.7 514.6,206.5 514.4,206.3 514.1,206.0 513.7,205.7 513.2,205.4 512.8,205.1 512.3,204.8 511.9,204.6 511.4,204.3 510.9,204.1 510.5,203.8 510.0,203.6 509.5,203.4 509.0,203.2 508.5,202.9 508.1,202.7 507.6,202.5 507.1,202.3 506.5,202.0 505.6,201.7 504.7,201.3 503.7,200.9 502.7,200.6 501.6,200.2 500.6,199.9 499.5,199.5 498.4,199.2 497.3,198.8 496.2,198.5 495.1,198.1 494.0,197.8 493.0,197.4 492.0,197.0 491.0,196.6 490.1,196.2 489.1,195.8 488.2,195.4 487.2,195.0 486.3,194.6 485.3,194.2 484.4,193.8 483.5,193.3 482.6,192.9 481.7,192.4 480.8,192.0 479.9,191.5 479.1,191.1 478.2,190.6 477.4,190.1 476.6,189.6 475.9,189.1 475.2,188.6 474.5,188.1 473.9,187.6 473.2,187.1 472.5,186.6 471.9,186.1 471.3,185.5 470.6,185.0 470.0,184.4 469.4,183.9 468.8,183.3 468.2,182.7 467.7,182.2 467.1,181.6 466.6,181.0 466.0,180.5 465.6,179.9 465.1,179.4 464.7,178.9 464.2,178.4 463.8,177.9 463.4,177.3 463.0,176.8 462.6,176.3 462.2,175.8 461.8,175.2 461.4,174.7 461.1,174.2 460.7,173.7 460.4,173.2 460.1,172.7 459.8,172.2 459.6,171.8 459.3,171.4 459.1,171.0 458.9,170.6 458.7,170.2 458.5,169.8 458.3,169.4 458.1,169.0 457.9,168.7 457.8,168.3 457.6,167.9 457.5,167.6 457.4,167.3 457.3,167.0 457.2,166.7 457.2,166.4 457.2,166.2 457.1,166.1 457.1,166.0 457.1,165.8 457.1,165.7 457.2,165.5 457.2,165.4 457.2,165.2 457.2,165.0 457.3,164.9 457.3,164.7 457.3,164.5 457.4,164.3 457.4,164.1 457.5,163.9 457.5,163.6 456.9,163.6 456.9,163.8 456.8,164.0 456.8,164.2 456.8,164.4 456.7,164.6 456.7,164.8 456.6,164.9 456.6,165.1 456.6,165.3 456.6,165.5 456.6,165.6 456.5,165.8 456.5,166.0 456.5,166.1 456.6,166.3 456.6,166.5 456.6,166.8 456.7,167.1 456.8,167.4 456.9,167.8 457.0,168.2 457.2,168.5 457.3,168.9 457.5,169.3 457.7,169.7 457.9,170.1 458.1,170.5 458.3,170.9 458.5,171.3 458.7,171.7 459.0,172.1 459.2,172.5 459.5,173.0 459.8,173.5 460.1,174.1 460.5,174.6 460.8,175.1 461.2,175.6 461.6,176.2 462.0,176.7 462.4,177.2 462.8,177.8 463.3,178.3 463.7,178.8 464.1,179.4 464.6,179.9 465.0,180.4 465.5,180.9 466.0,181.5 466.6,182.1 467.2,182.7 467.7,183.2 468.3,183.8 468.9,184.4 469.5,185.0 470.1,185.5 470.8,186.1 471.4,186.6 472.1,187.2 472.7,187.7 473.4,188.2 474.1,188.8 474.7,189.3 475.4,189.8 476.2,190.3 477.0,190.8 477.8,191.3 478.7,191.8 479.5,192.2 480.4,192.7 481.3,193.2 482.2,193.6 483.1,194.1 484.1,194.5 485.0,194.9 485.9,195.3 486.9,195.8 487.8,196.2 488.8,196.6 489.7,197.0 490.7,197.4 491.7,197.8 492.7,198.2 493.8,198.5 494.9,198.9 495.9,199.3 497.0,199.6 498.1,200.0 499.2,200.4 500.3,200.7 501.4,201.1 502.4,201.4 503.4,201.8 504.4,202.1 505.3,202.5 506.2,202.8 506.7,203.1 507.2,203.3 507.7,203.5 508.2,203.7 508.6,204.0 509.1,204.2 509.6,204.4 510.0,204.6 510.5,204.9 510.9,205.1 511.4,205.3 511.8,205.6 512.2,205.8 512.6,206.1 513.1,206.4 513.4,206.7 513.7,206.9 513.9,207.1 514.2,207.3 514.4,207.6 514.7,207.8 514.9,208.1 515.2,208.3 515.4,208.6 515.7,208.9 515.9,209.1 516.1,209.4 516.3,209.7 516.4,210.1 516.5,210.4 516.6,210.8 516.6,211.1 516.5,211.5 516.3,211.8 516.1,212.1 515.9,212.4 515.7,212.7 515.4,213.0 515.1,213.2 514.9,213.4 514.6,213.6 514.3,213.8 514.0,214.0 513.8,214.2 513.5,214.4 513.2,214.6 513.0,214.7 512.7,214.9 512.3,215.1 511.9,215.3 511.5,215.5 511.0,215.6 510.6,215.8 510.2,215.9 509.8,216.1 509.4,216.2 508.9,216.3 508.5,216.4 508.1,216.5 507.6,216.6 507.2,216.7 506.7,216.8 506.3,217.0 505.8,217.1 505.0,217.3 504.1,217.4 503.2,217.6 502.2,217.8 501.2,217.9 500.2,218.1 499.2,218.2 498.1,218.4 497.0,218.5 495.9,218.7 494.8,218.8 493.7,219.0 492.6,219.1 491.5,219.3 490.3,219.4 489.2,219.6 487.8,219.8 486.4,220.0 484.9,220.2 483.4,220.4 481.9,220.6 480.4,220.7 478.8,220.9 477.3,221.1 475.7,221.3 474.1,221.5 472.6,221.7 471.0,221.9 469.4,222.1 467.9,222.3 466.3,222.5 464.8,222.7 463.3,222.9 461.7,223.1 460.2,223.3 458.6,223.5 457.1,223.7 455.5,223.9 454.0,224.1 452.4,224.3 450.9,224.5 449.4,224.7 447.9,224.9 446.3,225.1 444.8,225.3 443.3,225.5 441.9,225.7 440.4,225.9 439.1,226.1 437.8,226.2 436.5,226.4 435.2,226.6 434.0,226.8 432.7,227.0 431.4,227.2 430.2,227.3 428.9,227.5 427.7,227.7 426.5,227.9 425.3,228.1 424.1,228.2 422.9,228.4 421.7,228.6 420.5,228.8 419.4,228.9 418.4,229.1 417.4,229.3 416.4,229.4 415.4,229.6 414.4,229.7 413.4,229.9 412.4,230.0 411.4,230.2 410.5,230.4 409.5,230.5 408.5,230.7 407.5,230.9 406.4,231.1 405.4,231.3 404.3,231.5 402.9,231.7 401.5,232.0 400.1,232.3 398.6,232.6 397.1,232.9 395.6,233.2 394.1,233.6 392.6,233.9 391.0,234.2 389.5,234.6 388.0,234.9 386.5,235.2 385.0,235.6 383.5,235.9 382.1,236.2 380.7,236.6 379.5,236.8 378.3,237.1 377.1,237.4 376.0,237.7 374.8,238.0 373.7,238.3 372.5,238.6 371.4,238.8 370.3,239.1 369.2,239.4 368.1,239.7 367.0,240.0 365.9,240.3 364.8,240.6 363.8,240.9 362.7,241.2 361.8,241.4 360.9,241.7 360.0,241.9 359.2,242.2 358.3,242.4 357.4,242.7 356.6,242.9 355.8,243.2 354.9,243.4 354.1,243.7 353.2,244.0 352.4,244.2 351.5,244.5 350.7,244.8 349.8,245.1 348.9,245.3 347.9,245.7 346.9,246.0 345.9,246.3 344.9,246.6 343.9,246.9 342.9,247.2 341.9,247.5 340.9,247.8 339.9,248.2 338.8,248.5 337.8,248.9 336.7,249.2 335.7,249.6 334.6,250.0 333.5,250.4 332.4,250.8 330.9,251.4 329.3,251.9 327.6,252.5 325.9,253.1 324.2,253.7 322.5,254.3 320.8,254.9 319.1,255.5 317.4,256.2 315.8,256.9 314.2,257.6 312.7,258.3 311.2,259.1 309.9,259.9 308.7,260.7 307.5,261.6 306.6,262.4 305.6,263.2 304.6,264.1 303.7,265.0 302.8,265.9 302.0,266.9 301.1,267.8 300.4,268.8 299.6,269.8 298.9,270.8 298.3,271.8 297.7,272.8 297.2,273.9 296.8,274.9 296.4,275.9 296.0,276.9 295.7,277.9 295.4,278.9 295.2,279.9 295.0,281.0 294.8,282.1 294.7,283.2 294.6,284.4 294.5,285.5 294.4,286.7 294.4,287.8 294.5,289.0 294.5,290.1 294.7,291.2 294.8,292.3 295.0,293.4 295.2,294.4 295.4,295.4 295.7,296.5 296.1,297.6 296.5,298.6 297.0,299.7 297.6,300.8 298.1,301.9 298.8,303.0 299.4,304.0 300.1,305.1 300.8,306.0 301.5,307.0 302.2,307.9 302.9,308.8 303.6,309.6 304.3,310.3 304.7,310.9 305.2,311.4 305.7,311.8 306.3,312.2 306.8,312.7 307.4,313.0 308.0,313.4 308.6,313.8 309.3,314.1 310.0,314.5 310.7,314.8 311.4,315.2 312.2,315.6 313.0,315.9 313.9,316.3 314.7,316.7 315.6,317.2 316.5,317.7 317.4,318.1 318.2,318.6 319.1,319.0 320.0,319.5 321.0,320.0 321.9,320.4 322.8,320.8 323.7,321.3 324.7,321.7 325.6,322.1 326.5,322.6 327.5,323.0 328.4,323.4 329.4,323.7 330.4,324.1 331.4,324.5 332.4,324.9 333.4,325.2 334.5,325.6 335.5,326.0 336.6,326.3 337.6,326.6 338.7,327.0 339.8,327.3 340.9,327.6 342.0,327.9 343.1,328.2 344.3,328.5 345.4,328.8 346.5,329.1 347.8,329.5 349.1,329.8 350.3,330.1 351.6,330.4 352.9,330.7 354.1,331.0 355.4,331.3 356.7,331.6 358.1,331.8 359.4,332.1 360.8,332.4 362.2,332.7 363.6,332.9 365.1,333.2 366.6,333.4 368.1,333.7 370.4,334.0 372.7,334.4 375.1,334.7 377.6,335.0 380.2,335.4 382.8,335.7 385.5,336.0 388.2,336.3 391.0,336.6 393.8,336.9 396.6,337.1 399.4,337.4 402.2,337.7 405.0,337.9 407.7,338.1 410.5,338.4 413.3,338.6 416.1,338.8 419.0,339.0 422.0,339.2 425.0,339.3 428.0,339.5 431.0,339.6 433.9,339.8 436.9,339.9 439.8,340.0 442.7,340.2 445.6,340.3 448.3,340.4 451.0,340.5 453.6,340.6 456.1,340.8 457.8,340.8 459.5,340.9 461.2,341.0 462.8,341.1 464.4,341.1 465.9,341.2 467.4,341.3 468.9,341.3 470.3,341.4 471.8,341.5 473.2,341.5 474.7,341.6 476.1,341.7 477.5,341.7 478.9,341.8 480.3,341.9 481.6,341.9 482.9,342.0 484.2,342.0 485.4,342.1 486.7,342.1 487.9,342.2 489.2,342.3 490.4,342.3 491.7,342.4 492.9,342.4 494.1,342.5 495.4,342.5 496.6,342.6 497.9,342.7 499.1,342.7 500.4,342.8 501.6,342.9 502.9,342.9 504.2,343.0 505.6,343.1 506.9,343.2 508.2,343.3 509.5,343.3 510.8,343.4 512.1,343.5 513.4,343.6 514.6,343.6 515.9,343.7 517.1,343.8 518.2,343.9 519.3,343.9 520.4,344.0 521.2,344.1 521.9,344.1 522.6,344.1 523.3,344.2 524.0,344.2 524.7,344.2 525.4,344.3 526.1,344.3 526.7,344.3 527.4,344.4 528.1,344.4 528.8,344.5 529.5,344.5 530.2,344.6 530.9,344.6 531.7,344.7 532.4,344.8 533.2,344.9 533.9,345.0 534.6,345.0 535.4,345.1 536.1,345.2 536.8,345.3 537.5,345.4 538.3,345.5 539.0,345.6 539.7,345.7 540.4,345.8 541.1,346.0 541.8,346.1 542.6,346.2 543.3,346.3 544.0,346.4 544.7,346.5 545.4,346.6 546.1,346.8 546.8,346.9 547.5,347.0 548.3,347.1 549.0,347.3 549.7,347.4 550.5,347.5 551.2,347.7 551.9,347.8 552.7,348.0 553.4,348.1 554.1,348.3 554.9,348.4 555.5,348.6 556.1,348.8 556.7,348.9 557.4,349.1 558.0,349.2 558.6,349.4 559.2,349.6 559.9,349.8 560.5,349.9 561.1,350.1 561.7,350.3 562.3,350.5 562.9,350.7 563.5,350.9 564.1,351.1 564.7,351.3 565.1,351.5 565.5,351.6 565.9,351.8 566.3,351.9 566.7,352.1 567.1,352.3 567.6,352.5 568.0,352.6 568.5,352.8 568.9,353.0 569.4,353.2 569.9,353.5 570.4,353.7 570.9,354.0 571.4,354.2 571.9,354.5 572.2,354.7 572.5,354.9 572.8,355.1 573.0,355.3 573.4,355.5 573.7,355.7 574.0,356.0 574.3,356.3 574.7,356.5 575.0,356.9 575.3,357.2 575.7,357.6 576.0,358.0 576.2,358.5 576.4,359.1 576.4,359.7 576.4,360.2 576.1,360.8 575.9,361.3 575.5,361.7 575.2,362.1 574.8,362.4 574.4,362.7 574.1,363.0 573.8,363.2 573.4,363.4 573.1,363.6 572.8,363.8 572.6,364.0 572.3,364.2 572.1,364.3 571.8,364.5 571.4,364.8 570.9,365.0 570.4,365.3 570.0,365.5 569.5,365.7 569.1,366.0 568.6,366.2 568.2,366.4 567.7,366.6 567.3,366.7 566.9,366.9 566.4,367.1 566.0,367.3 565.6,367.5 565.2,367.6 564.7,367.8 564.1,368.0 563.5,368.2 562.9,368.4 562.3,368.6 561.7,368.8 561.0,369.0 560.4,369.2 559.8,369.4 559.2,369.5 558.5,369.7 557.9,369.9 557.3,370.0 556.7,370.2 556.1,370.3 555.5,370.5 554.9,370.7 554.2,370.8 553.4,371.0 552.7,371.1 552.0,371.3 551.3,371.4 550.5,371.6 549.8,371.7 549.1,371.9 548.3,372.0 547.6,372.1 546.9,372.3 546.2,372.4 545.5,372.5 544.8,372.7 544.1,372.8 543.4,372.9 542.6,373.0 541.9,373.1 541.2,373.3 540.5,373.4 539.8,373.5 539.1,373.6 538.3,373.7 537.6,373.8 536.9,373.9 536.2,374.0 535.5,374.1 534.8,374.2 534.1,374.3 533.4,374.4 532.7,374.5 532.0,374.6 531.3,374.7 530.7,374.8 530.0,374.9 529.3,375.0 528.7,375.1 528.0,375.2 527.3,375.3 526.6,375.4 526.0,375.4 525.3,375.5 524.6,375.6 523.8,375.7 523.1,375.8 522.3,375.9 521.6,376.0 520.7,376.0 519.6,376.1 518.5,376.3 517.3,376.4 516.0,376.5 514.8,376.6 513.5,376.7 512.2,376.8 510.9,376.9 509.6,377.0 508.3,377.0 507.0,377.1 505.7,377.2 504.4,377.3 503.1,377.4 501.8,377.5 500.5,377.6 499.3,377.7 498.0,377.8 496.8,377.8 495.7,377.9 494.5,378.0 493.3,378.0 492.2,378.1 491.0,378.1 489.8,378.2 488.6,378.3 487.4,378.3 486.1,378.4 484.8,378.5 483.5,378.6 482.1,378.7 480.6,378.8 478.2,379.1 475.5,379.3 472.7,379.6 469.8,379.8 466.8,380.1 463.6,380.5 460.4,380.8 457.2,381.1 453.8,381.5 450.5,381.9 447.1,382.2 443.8,382.6 440.5,383.0 437.2,383.4 433.9,383.8 430.8,384.1 427.7,384.5 424.5,384.9 421.4,385.3 418.3,385.7 415.2,386.1 412.1,386.5 408.9,386.9 405.8,387.3 402.7,387.7 399.6,388.2 396.5,388.6 393.3,389.0 390.2,389.5 387.1,389.9 384.0,390.3 380.8,390.8 377.7,391.2 374.6,391.6 371.5,392.1 368.3,392.5 365.2,392.9 362.1,393.3 359.0,393.8 355.9,394.2 352.8,394.6 349.7,395.1 346.7,395.6 343.6,396.1 340.5,396.6 337.4,397.1 334.2,397.7 331.1,398.3 327.8,398.9 324.4,399.6 321.0,400.3 317.6,401.0 314.2,401.7 310.7,402.5 307.3,403.3 303.9,404.1 300.4,404.9 297.0,405.7 293.7,406.6 290.3,407.4 287.1,408.3 283.8,409.2 280.7,410.0 277.5,410.9 274.9,411.7 272.2,412.5 269.7,413.3 267.2,414.1 264.7,414.9 262.2,415.6 259.8,416.4 257.4,417.3 255.0,418.1 252.6,419.0 250.2,419.9 247.8,420.8 245.4,421.8 242.9,422.8 240.4,423.8 237.9,424.9 234.9,426.3 231.8,427.7 228.6,429.1 225.3,430.6 222.0,432.2 218.7,433.8 215.4,435.5 212.1,437.1 208.9,438.8 205.7,440.6 202.6,442.3 199.6,444.1 196.7,445.9 193.9,447.6 191.3,449.4 188.9,451.2 187.1,452.6 185.3,454.0 183.6,455.4 181.9,456.9 180.3,458.3 178.7,459.8 177.2,461.3 175.7,462.8 174.2,464.3 172.8,465.8 171.5,467.3 170.2,468.8 168.9,470.3 167.7,471.7 166.5,473.2 165.4,474.7 164.6,475.8 163.9,476.9 163.1,478.1 162.4,479.2 161.7,480.4 161.1,481.6 160.5,482.7 159.9,483.9 159.3,485.0 158.7,486.2 158.1,487.3 157.6,488.4 157.1,489.5 156.6,490.6 156.0,491.7 155.6,492.8 155.2,493.5 154.9,494.3 154.6,495.0 154.4,495.7 154.1,496.5 153.8,497.2 153.6,497.9 153.3,498.6 153.1,499.3 152.9,500.0 152.6,500.7 152.4,501.5 152.1,502.2 151.8,502.9 151.6,503.7 151.3,504.4 151.0,505.1 150.7,505.9 150.5,506.6 150.2,507.3 150.0,508.0 149.7,508.7 149.5,509.4 149.2,510.2 149.0,510.9 148.7,511.6 148.5,512.3 148.2,513.0 148.0,513.7 147.7,514.5 147.4,515.2 147.2,515.9" fill="#fff"/>
<polygon points="430.9,512.3 431.3,511.5 431.7,510.6 432.1,509.8 432.5,509.0 433.0,508.1 433.4,507.3 433.8,506.5 434.2,505.6 434.6,504.8 435.0,504.0 435.4,503.2 435.8,502.4 436.1,501.6 436.5,500.9 436.8,500.2 437.1,499.5 437.2,499.2 437.3,498.8 437.4,498.5 437.4,498.2 437.5,497.8 437.7,497.4 437.8,497.1 437.9,496.6 438.1,496.2 438.3,495.7 438.6,495.2 438.9,494.7 439.2,494.1 439.6,493.6 440.0,493.0 440.5,492.5 441.0,491.8 441.5,491.2 442.1,490.6 442.6,490.0 443.2,489.4 443.7,488.8 444.3,488.3 444.9,487.7 445.4,487.2 446.0,486.6 446.6,486.1 447.2,485.6 447.8,485.1 448.4,484.5 449.0,484.0 449.7,483.5 450.5,482.9 451.4,482.3 452.3,481.6 453.2,481.0 454.1,480.4 455.0,479.8 456.0,479.2 457.0,478.6 458.0,478.0 459.0,477.4 460.0,476.8 461.0,476.3 462.0,475.7 463.1,475.2 464.1,474.6 465.2,474.1 466.4,473.6 467.6,473.0 468.9,472.5 470.1,472.0 471.3,471.5 472.6,471.0 473.8,470.6 475.0,470.1 476.2,469.7 477.3,469.3 478.5,468.8 479.7,468.4 480.8,468.0 481.9,467.6 483.0,467.3 484.1,466.9 485.2,466.5 486.3,466.1 487.4,465.7 488.5,465.4 489.6,465.0 490.7,464.6 491.9,464.3 493.0,463.9 494.2,463.6 495.3,463.2 496.5,462.9 497.7,462.5 498.9,462.2 500.1,461.9 501.3,461.6 502.5,461.3 503.9,461.0 505.2,460.7 506.5,460.4 507.9,460.2 509.1,459.9 510.4,459.7 511.7,459.5 512.9,459.3 514.1,459.1 515.3,458.9 516.4,458.6 517.5,458.4 518.6,458.2 519.6,458.0 520.6,457.8 521.6,457.6 522.5,457.5 523.3,457.3 524.2,457.1 525.0,456.9 525.9,456.7 526.7,456.5 527.5,456.3 528.4,456.2 529.2,456.0 530.1,455.8 531.1,455.6 532.0,455.4 533.0,455.1 534.1,454.9 535.2,454.7 536.4,454.4 538.4,454.0 540.6,453.5 542.9,453.1 545.3,452.6 547.8,452.0 550.4,451.5 553.0,450.9 555.7,450.4 558.5,449.8 561.2,449.2 564.0,448.7 566.7,448.1 569.3,447.5 571.9,447.0 574.4,446.5 576.8,446.0 578.8,445.6 580.8,445.2 582.8,444.8 584.7,444.4 586.6,444.0 588.5,443.7 590.3,443.3 592.2,442.9 594.0,442.6 595.8,442.2 597.7,441.8 599.5,441.5 601.3,441.1 603.2,440.7 605.1,440.3 607.0,439.8 609.1,439.4 611.2,438.9 613.3,438.5 615.3,438.0 617.4,437.6 619.4,437.2 621.4,436.7 623.5,436.2 625.5,435.8 627.6,435.3 629.6,434.7 631.7,434.2 633.9,433.6 636.0,433.0 638.2,432.4 640.5,431.7 643.6,430.8 646.9,429.8 650.3,428.8 653.8,427.7 657.4,426.6 661.0,425.4 664.6,424.3 668.3,423.0 672.0,421.8 675.6,420.5 679.1,419.1 682.6,417.8 686.0,416.4 689.3,415.0 692.5,413.5 695.5,412.1 698.2,410.8 701.0,409.4 703.8,408.1 706.5,406.7 709.2,405.3 711.9,404.0 714.4,402.6 716.9,401.1 719.2,399.7 721.4,398.2 723.4,396.8 725.3,395.3 727.0,393.7 728.5,392.2 729.7,390.7 730.8,389.1 731.6,387.8 732.4,386.4 733.2,384.9 733.9,383.4 734.6,381.9 735.2,380.4 735.7,378.8 736.1,377.3 736.5,375.7 736.7,374.2 736.9,372.8 737.0,371.4 737.0,370.0 736.9,368.7 736.8,367.5 736.6,366.5 736.3,365.2 735.8,363.8 735.0,362.4 734.0,360.9 732.8,359.4 731.3,357.8 729.7,356.3 727.8,354.7 725.9,353.2 723.8,351.7 721.7,350.2 719.5,348.7 717.3,347.2 715.0,345.8 712.8,344.4 710.7,343.1 708.4,341.7 706.0,340.4 703.4,339.1 700.6,337.8 697.7,336.6 694.7,335.4 691.6,334.2 688.5,333.1 685.4,332.0 682.2,331.0 679.1,330.0 676.0,329.0 673.0,328.0 670.1,327.1 667.3,326.2 664.7,325.3 662.9,324.8 661.3,324.2 659.7,323.7 658.1,323.2 656.6,322.7 655.1,322.2 653.7,321.8 652.2,321.3 650.8,320.9 649.4,320.5 648.0,320.1 646.6,319.7 645.2,319.3 643.7,318.9 642.2,318.5 640.7,318.1 639.0,317.6 637.4,317.2 635.7,316.8 634.0,316.4 632.4,315.9 630.7,315.5 629.0,315.1 627.3,314.7 625.6,314.3 623.8,313.9 622.1,313.5 620.3,313.1 618.5,312.7 616.7,312.3 614.9,311.9 613.0,311.5 610.8,311.0 608.6,310.6 606.4,310.1 604.1,309.6 601.8,309.1 599.5,308.6 597.2,308.1 594.8,307.6 592.5,307.2 590.1,306.7 587.8,306.3 585.4,305.8 583.1,305.4 580.7,305.0 578.4,304.6 576.1,304.2 573.9,303.9 571.6,303.5 569.2,303.2 566.9,302.9 564.6,302.6 562.2,302.3 559.9,302.1 557.5,301.8 555.2,301.5 552.8,301.3 550.5,301.1 548.2,300.8 545.9,300.6 543.7,300.3 541.4,300.1 539.2,299.9 537.3,299.7 535.5,299.5 533.7,299.3 531.9,299.1 530.2,298.9 528.4,298.7 526.7,298.5 525.0,298.4 523.3,298.2 521.6,298.0 519.9,297.9 518.2,297.7 516.4,297.5 514.6,297.4 512.8,297.2 510.9,297.0 508.8,296.8 506.5,296.7 504.2,296.5 501.9,296.3 499.5,296.1 497.1,295.9 494.7,295.7 492.3,295.5 489.9,295.4 487.5,295.2 485.2,295.0 482.8,294.9 480.5,294.7 478.3,294.6 476.1,294.5 474.0,294.3 472.4,294.3 470.8,294.2 469.2,294.1 467.7,294.1 466.2,294.0 464.7,293.9 463.2,293.9 461.7,293.9 460.2,293.8 458.8,293.8 457.3,293.7 455.8,293.7 454.3,293.6 452.8,293.6 451.2,293.5 449.7,293.4 448.1,293.4 446.5,293.3 444.8,293.2 443.2,293.1 441.6,293.0 439.9,293.0 438.3,292.9 436.7,292.8 435.0,292.7 433.4,292.6 431.8,292.5 430.2,292.4 428.6,292.3 427.0,292.2 425.4,292.1 423.8,292.0 422.4,292.0 420.9,291.9 419.4,291.8 417.9,291.7 416.4,291.6 415.0,291.6 413.5,291.5 412.0,291.4 410.5,291.3 409.1,291.2 407.7,291.1 406.2,291.1 404.9,291.0 403.5,290.9 402.2,290.7 400.9,290.6 399.9,290.6 399.0,290.5 398.1,290.4 397.2,290.3 396.3,290.2 395.4,290.1 394.5,290.0 393.7,289.9 392.8,289.8 392.0,289.7 391.2,289.6 390.3,289.5 389.5,289.4 388.7,289.3 387.9,289.1 387.1,289.0 386.5,288.9 385.9,288.8 385.4,288.7 384.8,288.6 384.2,288.5 383.6,288.4 383.1,288.2 382.5,288.1 382.0,288.0 381.4,287.9 380.8,287.7 380.3,287.6 379.7,287.4 379.1,287.3 378.6,287.1 378.0,287.0 377.5,286.8 377.1,286.6 376.6,286.5 376.0,286.3 375.5,286.1 375.0,285.9 374.4,285.7 373.8,285.5 373.3,285.3 372.7,285.1 372.1,284.8 371.5,284.6 370.9,284.3 370.3,284.0 369.7,283.7 369.2,283.4 368.8,283.1 368.4,282.8 368.0,282.5 367.6,282.3 367.2,282.0 366.8,281.6 366.4,281.3 366.0,280.9 365.6,280.6 365.2,280.2 364.8,279.8 364.4,279.3 364.1,278.9 363.7,278.4 363.4,277.8 363.2,277.3 363.1,276.7 363.0,276.1 363.0,275.6 363.0,275.1 363.1,274.6 363.2,274.1 363.3,273.6 363.4,273.2 363.6,272.7 363.8,272.3 364.0,271.9 364.2,271.4 364.5,271.0 364.7,270.6 365.0,270.3 365.3,269.9 365.7,269.4 366.1,269.0 366.6,268.6 367.0,268.2 367.5,267.9 368.0,267.6 368.4,267.3 368.9,267.0 369.3,266.7 369.8,266.4 370.2,266.1 370.6,265.9 371.1,265.7 371.5,265.4 371.9,265.2 372.3,265.0 372.7,264.8 373.2,264.5 373.7,264.3 374.2,264.1 374.6,263.9 375.1,263.8 375.6,263.6 376.0,263.4 376.4,263.3 376.9,263.1 377.3,263.0 377.7,262.8 378.1,262.7 378.5,262.6 378.9,262.4 379.3,262.3 379.7,262.1 380.1,262.0 380.6,261.8 381.0,261.7 381.4,261.5 381.9,261.4 382.3,261.2 382.8,261.1 383.3,260.9 383.7,260.8 384.2,260.6 384.7,260.5 385.2,260.3 385.8,260.2 386.3,260.0 386.9,259.9 387.6,259.7 388.4,259.5 389.2,259.3 390.1,259.1 390.9,259.0 391.8,258.8 392.7,258.6 393.5,258.4 394.4,258.3 395.3,258.1 396.2,257.9 397.1,257.8 398.0,257.6 398.9,257.4 399.7,257.3 400.6,257.1 401.5,257.0 402.3,256.8 403.2,256.7 404.0,256.6 404.8,256.5 405.6,256.3 406.5,256.2 407.3,256.1 408.1,256.0 408.9,255.8 409.8,255.7 410.7,255.6 411.5,255.5 412.4,255.3 413.3,255.2 414.3,255.0 415.6,254.8 417.0,254.6 418.4,254.4 419.8,254.1 421.3,253.9 422.7,253.7 424.2,253.4 425.8,253.2 427.4,252.9 429.0,252.6 430.6,252.4 432.3,252.1 434.0,251.8 435.7,251.5 437.5,251.2 439.3,250.9 441.9,250.5 444.8,250.0 447.8,249.5 450.9,249.0 454.1,248.5 457.4,248.0 460.7,247.4 464.1,246.9 467.4,246.3 470.7,245.8 473.9,245.2 477.0,244.7 480.0,244.2 482.8,243.6 485.5,243.1 487.9,242.6 489.3,242.4 490.7,242.1 492.0,241.8 493.2,241.5 494.4,241.2 495.6,240.9 496.7,240.6 497.8,240.3 498.9,240.0 500.1,239.8 501.2,239.5 502.3,239.2 503.4,238.9 504.6,238.6 505.8,238.3 507.0,238.1 508.3,237.8 509.6,237.5 510.9,237.3 512.2,237.0 513.5,236.8 514.7,236.6 516.0,236.4 517.2,236.1 518.5,235.9 519.7,235.6 520.9,235.4 522.0,235.1 523.2,234.8 524.3,234.5 525.4,234.2 526.5,233.8 527.5,233.5 528.6,233.0 529.7,232.6 530.8,232.2 531.8,231.7 532.9,231.2 534.0,230.8 535.0,230.3 536.1,229.7 537.1,229.2 538.1,228.7 539.1,228.2 540.0,227.7 540.9,227.1 541.8,226.6 542.6,226.1 543.2,225.7 543.8,225.2 544.4,224.8 545.0,224.4 545.6,223.9 546.2,223.4 546.8,223.0 547.3,222.5 547.9,222.0 548.4,221.6 549.0,221.1 549.5,220.7 550.0,220.2 550.5,219.8 551.0,219.4 551.5,219.0 551.8,218.7 552.2,218.5 552.5,218.3 552.8,218.0 553.0,217.8 553.3,217.7 553.5,217.5 553.7,217.3 553.9,217.2 554.0,217.0 554.1,216.9 554.2,216.8 554.3,216.6 554.4,216.5 554.4,216.4 554.4,216.3 554.5,216.2 554.5,216.0 554.6,215.9 554.6,215.7 554.7,215.6 554.7,215.4 554.7,215.3 554.8,215.1 554.8,215.0 554.8,214.8 554.8,214.7 554.8,214.5 554.8,214.4 554.8,214.3 554.8,214.2 554.8,214.1 554.8,214.0 554.8,213.9 554.8,213.8 554.8,213.6 554.8,213.5 554.8,213.4 554.7,213.2 554.7,213.1 554.6,212.9 554.6,212.7 554.5,212.5 554.4,212.4 554.3,212.2 554.2,212.0 554.1,211.8 554.0,211.6 553.9,211.4 553.7,211.2 553.6,210.9 553.4,210.7 553.2,210.5 553.0,210.3 552.8,210.0 552.6,209.8 552.4,209.5 552.1,209.3 551.9,209.1 551.6,208.8 551.3,208.6 551.1,208.3 550.8,208.1 550.5,207.8 550.2,207.6 549.9,207.3 549.6,207.0 549.3,206.8 548.9,206.5 548.6,206.3 548.3,206.0 547.9,205.8 547.6,205.5 547.2,205.3 546.9,205.0 546.5,204.8 546.2,204.5 545.8,204.3 545.5,204.1 545.1,203.8 544.8,203.6 544.4,203.4 544.0,203.1 543.6,202.9 543.2,202.7 542.8,202.5 542.4,202.2 542.0,202.0 541.6,201.8 541.2,201.6 540.7,201.4 540.3,201.2 539.9,201.0 539.5,200.8 539.0,200.6 538.6,200.4 538.1,200.2 537.6,200.0 537.2,199.8 536.7,199.6 536.3,199.5 535.8,199.3 535.3,199.1 534.8,198.9 534.3,198.8 533.8,198.6 533.2,198.4 532.7,198.3 532.1,198.1 531.5,197.9 530.9,197.7 530.2,197.5 529.2,197.2 528.2,196.9 527.0,196.6 525.9,196.3 524.6,196.0 523.3,195.7 522.0,195.4 520.7,195.0 519.4,194.7 518.1,194.4 516.7,194.0 515.4,193.7 514.2,193.4 512.9,193.1 511.8,192.7 510.7,192.4 509.9,192.2 509.1,192.0 508.4,191.7 507.7,191.5 507.0,191.3 506.3,191.1 505.7,190.8 505.0,190.6 504.4,190.4 503.8,190.2 503.1,190.0 502.4,189.7 501.7,189.5 501.0,189.2 500.3,189.0 499.5,188.7 498.3,188.3 497.1,187.9 495.7,187.5 494.3,187.1 492.8,186.6 491.3,186.2 489.8,185.7 488.2,185.2 486.7,184.7 485.1,184.2 483.6,183.7 482.1,183.2 480.6,182.7 479.2,182.1 477.8,181.6 476.6,181.0 475.7,180.6 474.8,180.1 473.9,179.7 473.1,179.3 472.3,178.8 471.5,178.4 470.7,177.9 469.9,177.5 469.2,177.0 468.4,176.5 467.7,176.0 467.0,175.6 466.4,175.1 465.7,174.6 465.1,174.1 464.5,173.6 464.1,173.2 463.6,172.8 463.2,172.4 462.8,172.0 462.4,171.5 462.0,171.1 461.6,170.7 461.3,170.3 461.0,169.8 460.6,169.4 460.3,169.0 460.0,168.6 459.8,168.2 459.5,167.8 459.3,167.4 459.0,167.1 458.9,166.8 458.7,166.6 458.6,166.4 458.5,166.1 458.4,165.9 458.3,165.7 458.2,165.5 458.2,165.3 458.1,165.1 458.0,164.9 458.0,164.8 457.9,164.6 457.9,164.4 457.8,164.3 457.8,164.1 457.7,163.9 458.3,163.7 458.4,163.9 458.4,164.1 458.5,164.2 458.5,164.4 458.6,164.6 458.6,164.8 458.7,164.9 458.7,165.1 458.8,165.3 458.9,165.5 459.0,165.7 459.1,165.9 459.2,166.1 459.3,166.3 459.4,166.5 459.5,166.8 459.8,167.1 460.0,167.5 460.3,167.8 460.5,168.2 460.8,168.6 461.1,169.0 461.4,169.4 461.8,169.8 462.1,170.2 462.5,170.7 462.9,171.1 463.3,171.5 463.7,171.9 464.1,172.3 464.5,172.7 465.0,173.1 465.6,173.5 466.2,174.0 466.8,174.5 467.5,175.0 468.1,175.5 468.8,175.9 469.5,176.4 470.3,176.9 471.0,177.3 471.8,177.8 472.6,178.2 473.4,178.7 474.3,179.1 475.1,179.5 476.0,179.9 476.9,180.4 478.1,180.9 479.5,181.5 480.9,182.0 482.3,182.5 483.8,183.0 485.3,183.5 486.9,184.0 488.4,184.5 490.0,185.0 491.5,185.4 493.0,185.9 494.5,186.3 495.9,186.7 497.3,187.2 498.6,187.6 499.8,188.0 500.5,188.2 501.3,188.5 502.0,188.7 502.7,189.0 503.4,189.2 504.0,189.4 504.7,189.6 505.3,189.9 505.9,190.1 506.6,190.3 507.2,190.5 507.9,190.7 508.6,191.0 509.3,191.2 510.1,191.4 510.9,191.7 512.0,192.0 513.2,192.3 514.4,192.6 515.6,192.9 516.9,193.3 518.2,193.6 519.6,193.9 520.9,194.3 522.2,194.6 523.5,194.9 524.8,195.2 526.0,195.6 527.2,195.9 528.4,196.2 529.4,196.5 530.4,196.8 531.1,196.9 531.7,197.1 532.3,197.3 532.9,197.5 533.5,197.6 534.0,197.8 534.5,198.0 535.0,198.1 535.6,198.3 536.0,198.5 536.5,198.6 537.0,198.8 537.5,199.0 538.0,199.2 538.4,199.4 538.9,199.6 539.4,199.8 539.8,200.0 540.2,200.2 540.7,200.4 541.1,200.6 541.5,200.8 542.0,201.0 542.4,201.2 542.8,201.4 543.2,201.7 543.6,201.9 544.0,202.1 544.4,202.3 544.8,202.6 545.2,202.8 545.6,203.1 546.0,203.3 546.3,203.5 546.7,203.8 547.0,204.0 547.4,204.3 547.8,204.5 548.1,204.8 548.5,205.0 548.8,205.3 549.1,205.5 549.5,205.8 549.8,206.1 550.1,206.3 550.4,206.6 550.8,206.9 551.1,207.1 551.4,207.4 551.6,207.6 551.9,207.9 552.2,208.1 552.5,208.4 552.7,208.6 553.0,208.9 553.2,209.1 553.5,209.4 553.7,209.6 553.9,209.9 554.1,210.1 554.3,210.4 554.4,210.6 554.6,210.8 554.7,211.1 554.8,211.3 555.0,211.5 555.1,211.7 555.2,211.9 555.3,212.1 555.4,212.3 555.5,212.5 555.5,212.7 555.6,212.8 555.7,213.0 555.7,213.2 555.7,213.4 555.8,213.5 555.8,213.7 555.8,213.8 555.8,214.0 555.8,214.2 555.8,214.3 555.8,214.5 555.8,214.7 555.8,214.8 555.8,215.0 555.7,215.2 555.7,215.4 555.7,215.6 555.6,215.7 555.6,215.9 555.5,216.1 555.5,216.3 555.4,216.5 555.3,216.7 555.3,216.8 555.2,217.0 555.1,217.1 555.1,217.3 555.0,217.4 554.8,217.6 554.7,217.8 554.5,217.9 554.3,218.1 554.1,218.3 553.9,218.4 553.7,218.6 553.4,218.8 553.1,219.0 552.8,219.3 552.5,219.5 552.2,219.7 551.7,220.1 551.2,220.5 550.7,221.0 550.2,221.4 549.6,221.9 549.1,222.3 548.5,222.8 548.0,223.3 547.4,223.7 546.8,224.2 546.2,224.7 545.6,225.2 545.0,225.6 544.4,226.1 543.8,226.5 543.2,226.9 542.3,227.5 541.4,228.0 540.5,228.5 539.5,229.1 538.5,229.6 537.5,230.1 536.5,230.6 535.5,231.2 534.4,231.7 533.3,232.2 532.2,232.6 531.1,233.1 530.0,233.6 529.0,234.0 527.9,234.4 526.8,234.8 525.7,235.1 524.6,235.5 523.4,235.8 522.3,236.1 521.1,236.4 519.9,236.6 518.7,236.9 517.4,237.1 516.2,237.3 514.9,237.6 513.6,237.8 512.4,238.0 511.1,238.3 509.8,238.5 508.5,238.8 507.2,239.0 506.0,239.3 504.8,239.6 503.7,239.9 502.5,240.2 501.4,240.4 500.3,240.7 499.2,241.0 498.1,241.3 496.9,241.6 495.8,241.9 494.6,242.2 493.4,242.4 492.2,242.7 490.9,243.0 489.5,243.3 488.1,243.6 485.7,244.1 483.0,244.6 480.2,245.1 477.2,245.7 474.1,246.2 470.9,246.8 467.6,247.3 464.2,247.9 460.9,248.4 457.5,249.0 454.3,249.5 451.0,250.0 447.9,250.5 444.9,251.0 442.1,251.5 439.4,251.9 437.6,252.2 435.9,252.5 434.1,252.8 432.4,253.1 430.8,253.4 429.1,253.6 427.5,253.9 425.9,254.2 424.4,254.4 422.9,254.7 421.4,254.9 420.0,255.1 418.5,255.4 417.2,255.6 415.8,255.8 414.5,256.0 413.5,256.2 412.6,256.3 411.7,256.4 410.8,256.6 409.9,256.7 409.1,256.8 408.3,257.0 407.4,257.1 406.6,257.2 405.8,257.3 405.0,257.4 404.1,257.6 403.3,257.7 402.5,257.8 401.6,258.0 400.8,258.1 399.9,258.3 399.1,258.4 398.2,258.6 397.3,258.7 396.4,258.9 395.5,259.1 394.6,259.2 393.7,259.4 392.9,259.6 392.0,259.8 391.1,259.9 390.3,260.1 389.5,260.3 388.7,260.5 387.9,260.7 387.1,260.9 386.6,261.0 386.0,261.1 385.5,261.3 385.0,261.4 384.5,261.6 384.1,261.7 383.6,261.9 383.1,262.0 382.7,262.1 382.2,262.3 381.8,262.4 381.3,262.6 380.9,262.7 380.5,262.9 380.0,263.1 379.6,263.2 379.2,263.4 378.8,263.5 378.5,263.6 378.0,263.8 377.6,263.9 377.2,264.1 376.8,264.2 376.4,264.4 375.9,264.5 375.5,264.7 375.1,264.8 374.6,265.0 374.1,265.2 373.7,265.4 373.2,265.6 372.8,265.9 372.4,266.1 372.0,266.3 371.6,266.5 371.2,266.8 370.8,267.0 370.4,267.2 369.9,267.5 369.5,267.8 369.1,268.1 368.7,268.4 368.2,268.7 367.8,269.0 367.4,269.3 367.0,269.7 366.6,270.1 366.2,270.5 366.0,270.8 365.7,271.2 365.5,271.5 365.2,271.9 365.0,272.3 364.8,272.7 364.7,273.1 364.5,273.5 364.4,273.9 364.2,274.3 364.2,274.7 364.1,275.2 364.1,275.6 364.1,276.1 364.2,276.5 364.3,277.0 364.5,277.5 364.7,277.9 365.0,278.4 365.3,278.8 365.7,279.1 366.0,279.5 366.4,279.9 366.8,280.2 367.1,280.5 367.5,280.8 367.9,281.1 368.3,281.4 368.7,281.7 369.0,282.0 369.4,282.2 369.8,282.5 370.3,282.8 370.9,283.1 371.5,283.3 372.0,283.6 372.6,283.8 373.1,284.0 373.7,284.3 374.2,284.5 374.8,284.6 375.3,284.8 375.9,285.0 376.4,285.2 376.9,285.3 377.4,285.5 377.9,285.7 378.4,285.8 378.9,286.0 379.5,286.1 380.0,286.3 380.6,286.4 381.1,286.5 381.7,286.7 382.2,286.8 382.8,286.9 383.3,287.0 383.9,287.1 384.4,287.2 385.0,287.3 385.6,287.4 386.1,287.5 386.7,287.6 387.3,287.7 388.1,287.8 388.9,288.0 389.7,288.1 390.5,288.2 391.3,288.3 392.1,288.4 393.0,288.5 393.8,288.6 394.7,288.7 395.5,288.8 396.4,288.9 397.3,289.0 398.2,289.1 399.1,289.2 400.0,289.3 401.0,289.3 402.3,289.5 403.6,289.6 404.9,289.7 406.3,289.8 407.7,289.8 409.2,289.9 410.6,290.0 412.1,290.1 413.5,290.2 415.0,290.3 416.5,290.3 418.0,290.4 419.5,290.5 421.0,290.6 422.4,290.7 423.9,290.7 425.5,290.8 427.1,290.9 428.6,291.0 430.2,291.1 431.9,291.2 433.5,291.3 435.1,291.4 436.7,291.5 438.4,291.6 440.0,291.7 441.6,291.7 443.3,291.8 444.9,291.9 446.5,292.0 448.1,292.1 449.7,292.1 451.3,292.2 452.8,292.3 454.3,292.3 455.8,292.4 457.3,292.4 458.8,292.5 460.3,292.5 461.7,292.6 463.2,292.6 464.7,292.6 466.2,292.7 467.7,292.8 469.3,292.8 470.8,292.9 472.4,293.0 474.1,293.0 476.2,293.2 478.4,293.3 480.6,293.4 482.9,293.6 485.2,293.7 487.6,293.9 490.0,294.1 492.4,294.3 494.8,294.4 497.2,294.6 499.6,294.8 502.0,295.0 504.3,295.2 506.6,295.4 508.9,295.6 511.1,295.7 512.9,295.9 514.7,296.1 516.5,296.2 518.3,296.4 520.0,296.5 521.7,296.7 523.5,296.9 525.2,297.0 526.9,297.2 528.6,297.4 530.3,297.5 532.1,297.7 533.8,297.9 535.6,298.1 537.5,298.3 539.4,298.5 541.6,298.7 543.8,298.9 546.1,299.2 548.4,299.4 550.7,299.6 553.0,299.9 555.3,300.1 557.7,300.4 560.0,300.6 562.4,300.9 564.8,301.1 567.1,301.4 569.4,301.7 571.8,302.0 574.1,302.4 576.4,302.7 578.7,303.1 581.0,303.5 583.3,303.9 585.7,304.3 588.1,304.7 590.4,305.2 592.8,305.7 595.1,306.1 597.5,306.6 599.8,307.1 602.1,307.6 604.4,308.0 606.7,308.5 609.0,309.0 611.2,309.5 613.4,310.0 615.2,310.4 617.1,310.8 618.9,311.2 620.7,311.6 622.4,312.0 624.2,312.4 625.9,312.8 627.7,313.2 629.4,313.6 631.1,314.0 632.8,314.4 634.4,314.8 636.1,315.2 637.8,315.7 639.4,316.1 641.1,316.5 642.6,316.9 644.1,317.4 645.6,317.8 647.0,318.2 648.5,318.6 649.9,319.0 651.3,319.4 652.7,319.8 654.2,320.2 655.6,320.7 657.1,321.2 658.6,321.6 660.2,322.1 661.8,322.7 663.4,323.2 665.2,323.8 667.8,324.7 670.6,325.6 673.5,326.5 676.5,327.5 679.5,328.5 682.7,329.5 685.8,330.5 689.0,331.6 692.1,332.8 695.2,333.9 698.2,335.2 701.1,336.4 703.9,337.7 706.6,339.0 709.1,340.4 711.4,341.8 713.6,343.2 715.8,344.5 718.1,346.0 720.3,347.4 722.5,348.9 724.7,350.4 726.8,352.0 728.8,353.5 730.6,355.1 732.3,356.7 733.9,358.3 735.2,359.9 736.3,361.5 737.1,363.0 737.7,364.5 738.2,366.0 738.4,367.2 738.5,368.6 738.6,370.0 738.6,371.4 738.5,373.0 738.4,374.5 738.1,376.1 737.7,377.7 737.3,379.4 736.8,381.0 736.2,382.6 735.5,384.2 734.8,385.8 734.0,387.3 733.1,388.8 732.3,390.2 731.1,391.9 729.8,393.5 728.2,395.1 726.5,396.7 724.5,398.2 722.4,399.8 720.2,401.3 717.8,402.8 715.3,404.2 712.8,405.6 710.1,407.0 707.4,408.4 704.7,409.8 701.9,411.2 699.1,412.5 696.4,413.9 693.4,415.4 690.2,416.8 686.9,418.3 683.4,419.7 679.9,421.1 676.4,422.5 672.7,423.8 669.1,425.2 665.4,426.4 661.8,427.7 658.1,428.9 654.6,430.0 651.1,431.1 647.7,432.2 644.4,433.2 641.2,434.1 638.9,434.8 636.7,435.5 634.5,436.1 632.4,436.6 630.3,437.2 628.2,437.7 626.1,438.2 624.1,438.7 622.0,439.1 620.0,439.6 617.9,440.0 615.9,440.5 613.8,440.9 611.8,441.4 609.7,441.8 607.6,442.3 605.7,442.7 603.8,443.1 601.9,443.5 600.1,443.9 598.2,444.3 596.4,444.7 594.6,445.1 592.7,445.4 590.9,445.8 589.0,446.2 587.2,446.6 585.3,446.9 583.3,447.3 581.4,447.7 579.4,448.1 577.4,448.5 575.0,449.0 572.5,449.5 569.9,450.1 567.2,450.6 564.5,451.1 561.8,451.7 559.0,452.2 556.3,452.8 553.6,453.3 550.9,453.9 548.3,454.4 545.8,454.9 543.4,455.4 541.1,455.9 538.9,456.3 536.9,456.8 535.8,457.0 534.6,457.2 533.6,457.5 532.6,457.7 531.6,457.9 530.7,458.1 529.8,458.3 528.9,458.5 528.1,458.7 527.2,458.9 526.4,459.1 525.6,459.3 524.7,459.5 523.9,459.7 523.0,459.9 522.1,460.1 521.1,460.3 520.1,460.5 519.1,460.7 518.0,460.9 516.8,461.1 515.7,461.3 514.5,461.5 513.3,461.7 512.1,461.9 510.9,462.2 509.6,462.4 508.3,462.6 507.0,462.9 505.7,463.2 504.4,463.4 503.1,463.7 501.9,464.0 500.7,464.3 499.5,464.6 498.4,465.0 497.2,465.3 496.0,465.6 494.9,466.0 493.7,466.3 492.6,466.7 491.5,467.0 490.4,467.4 489.2,467.7 488.1,468.1 487.0,468.5 485.9,468.9 484.8,469.3 483.8,469.6 482.7,470.0 481.6,470.4 480.4,470.8 479.3,471.2 478.1,471.6 477.0,472.0 475.8,472.5 474.6,472.9 473.4,473.3 472.2,473.8 471.0,474.3 469.8,474.8 468.6,475.3 467.4,475.8 466.3,476.4 465.2,476.9 464.2,477.4 463.2,478.0 462.2,478.5 461.2,479.1 460.2,479.7 459.3,480.3 458.3,480.9 457.4,481.5 456.4,482.1 455.5,482.7 454.6,483.3 453.8,483.9 452.9,484.5 452.1,485.2 451.3,485.8 450.7,486.3 450.1,486.8 449.6,487.3 449.0,487.8 448.4,488.3 447.9,488.8 447.3,489.4 446.8,489.9 446.3,490.4 445.8,491.0 445.3,491.5 444.8,492.0 444.3,492.6 443.8,493.1 443.3,493.7 442.9,494.3 442.5,494.8 442.1,495.2 441.8,495.7 441.5,496.2 441.3,496.6 441.1,497.0 440.9,497.5 440.7,497.9 440.6,498.3 440.5,498.6 440.4,499.0 440.3,499.4 440.2,499.7 440.1,500.1 440.0,500.5 439.9,500.9 439.6,501.5 439.3,502.2 438.9,503.0 438.6,503.7 438.2,504.5 437.8,505.3 437.4,506.1 437.0,507.0 436.6,507.8 436.2,508.6 435.8,509.5 435.3,510.3 434.9,511.2 434.5,512.0 434.1,512.8 433.7,513.6" fill="#fff"/>
<polygon points="262.0,510.0 271.0,501.1 299.0,501.1 292.0,510.0" fill="#fff"/>
<polygon points="351.5,434.0 387.5,423.7 405.5,431.5 374.6,440.5" fill="#fff"/>
<polygon points="432.1,414.7 469.0,407.3 482.5,415.6 449.6,422.7" fill="#fff"/>
<polygon points="512.6,400.9 542.3,395.3 557.8,402.2 525.6,408.7" fill="#fff"/>
<polygon points="580.5,390.0 607.2,383.7 625.4,386.5 594.2,396.7" fill="#fff"/>
<polygon points="625.4,341.0 638.7,337.7 650.0,346.0 638.0,350.0" fill="#fff"/>
<polygon points="633.0,371.5 641.0,366.0 655.0,370.0 650.0,378.0" fill="#fff"/>
<polygon points="580.3,327.9 591.8,322.9 614.2,328.5 600.7,332.8" fill="#fff"/>
<polygon points="533.0,321.4 541.4,316.7 562.3,318.7 552.4,324.3" fill="#fff"/>
<polygon points="490.8,317.7 496.4,312.1 515.7,314.0 508.8,319.5" fill="#fff"/>
<polygon points="449.3,314.0 454.0,308.7 473.0,310.0 467.0,315.5" fill="#fff"/>
<polygon points="408.3,310.0 414.3,306.2 432.2,307.4 428.7,312.0" fill="#fff"/>
<polygon points="366.3,305.1 372.8,302.3 390.5,304.7 386.7,309.2" fill="#fff"/>
<polygon points="331.9,294.0 339.3,292.1 353.3,298.0 347.7,301.4" fill="#fff"/>
<polygon points="316.0,284.5 322.0,276.0 328.3,277.2 329.4,283.3" fill="#fff"/>
<polygon points="326.0,269.5 331.5,260.3 343.0,262.5 340.0,271.0" fill="#fff"/>
<polygon points="345.8,254.0 358.8,250.2 366.7,252.7 352.3,257.1" fill="#fff"/>
<polygon points="372.8,247.8 391.4,244.1 397.9,246.5 379.3,250.6" fill="#fff"/>
<polygon points="406.3,242.2 424.0,240.0 428.6,241.5 410.9,245.0" fill="#fff"/>
<path d="M281,472.6 Q289,459.5 305,452.8 L324.3,457.2 Q313.5,464 308.8,474.4 Z" fill="#fff"/>
<polygon points="436.8,237.8 450.8,235.4 455.2,237.4 441.2,239.8" fill="#fff"/>
<polygon points="466.1,232.8 479.6,230.4 483.9,232.6 470.4,235.0" fill="#fff"/>
<polygon points="491.2,228.8 505.8,226.2 510.0,228.2 495.5,230.8" fill="#fff"/>
<polygon points="514.0,223.8 525.5,220.5 529.5,222.3 518.0,225.7" fill="#fff"/>
<polygon points="530.9,216.0 535.4,211.2 540.4,213.2 535.9,218.0" fill="#fff"/>
<polygon points="525.4,204.4 534.9,208.2 537.6,206.0 528.1,202.2" fill="#fff"/>
<polygon points="509.0,197.4 519.5,200.8 522.0,198.6 511.5,195.2" fill="#fff"/>
<polygon points="490.8,191.6 502.8,195.2 505.2,193.2 493.2,189.6" fill="#fff"/>
<polygon points="479.6,186.5 487.6,189.5 489.8,187.7 481.8,184.7" fill="#fff"/>
<polygon points="470.9,181.7 475.4,184.3 477.4,182.7 472.9,180.1" fill="#fff"/>
<polygon points="463.0,176.2 466.2,179.0 468.0,177.8 464.8,175.0" fill="#fff"/>
<polygon points="458.6,172.0 460.9,174.6 462.4,173.8 460.1,171.2" fill="#fff"/>
<polygon points="456.8,168.5 458.0,170.7 459.2,170.3 458.0,168.1" fill="#fff"/>
</g>
<ellipse cx="332.8" cy="456.7" rx="14.8" ry="2.2" fill="#000" opacity="0.22"/>
<ellipse cx="499.3" cy="431.6" rx="13.4" ry="2.0" fill="#000" opacity="0.22"/>
<ellipse cx="474.9" cy="318.3" rx="10.7" ry="1.6" fill="#000" opacity="0.22"/>
<ellipse cx="444.2" cy="250.7" rx="10.6" ry="1.6" fill="#000" opacity="0.22"/>
<ellipse cx="513.2" cy="213.7" rx="8.2" ry="1.2" fill="#000" opacity="0.22"/>
<ellipse cx="457.5" cy="165.1" rx="6.6" ry="1.0" fill="#000" opacity="0.22"/>
<polygon points="320.4,445.6 248.9,416.8 244.5,430.4" fill="#ffcb4f"/>
<circle cx="332.8" cy="445.4" r="12.3" fill="#ffcb4f"/>
<polygon points="516.7,420.6 626.5,397.1 628.9,413.1" fill="#62bb46"/>
<circle cx="499.3" cy="421.3" r="11.2" fill="#62bb46"/>
<polygon points="466.0,307.2 338.9,252.9 333.0,270.2" fill="#013461"/>
<circle cx="474.9" cy="310.1" r="8.9" fill="#013461"/>
<polygon points="456.3,241.5 579.9,215.7 582.1,229.3" fill="#500a58"/>
<circle cx="444.2" cy="242.6" r="8.8" fill="#500a58"/>
<polygon points="508.4,203.2 440.5,162.7 434.3,174.9" fill="#00a9ce"/>
<circle cx="513.2" cy="207.4" r="6.8" fill="#00a9ce"/>
<polygon points="463.5,156.8 497.7,129.2 503.2,137.6" fill="#e87722"/>
<circle cx="457.5" cy="160.0" r="5.5" fill="#e87722"/>
<circle cx="146.2" cy="400.6" r="90.8" fill="#ffcb4f"/>
<circle cx="243.7" cy="243.5" r="87.5" fill="#013461"/>
<circle cx="367.0" cy="120.2" r="78.8" fill="#00a9ce"/>
<circle cx="555.4" cy="100.5" r="59.2" fill="#e87722"/>
<circle cx="669.4" cy="210.7" r="82.7" fill="#500a58"/>
<circle cx="718.5" cy="392.0" r="86.5" fill="#62bb46"/>
<g fill="none" stroke="#fff" stroke-opacity="0.3" stroke-width="4.6" stroke-linecap="round" stroke-linejoin="round">
<rect x="124.4" y="375.8" width="48.3" height="81.9" rx="24" ry="24"/>
<path d="M124.6,405.3 Q148.6,416.5 172.5,405.3"/>
<path d="M148.3,387.5 V403.5"/>
<path d="M148.3,373.5 C148.3,358 141,353.2 124,352.5 C111,351.8 106.2,346 106.2,336.5"/>
</g>
<g fill="#fff" fill-opacity="0.2">
<path d="M244.8,331 L256.2,331 Q254.2,290 250.5,262 Q246,225 235.6,198 Q243.5,232 245,262 Q246.5,295 244.8,331 Z"/>
<path d="M176.9,206.5 Q213,199 230,215 Q238.5,224.5 237.2,240.5 Q203,246 187.5,227.5 Q180.5,218 176.9,206.5 Z"/>
<path d="M284,187.2 Q262,188.5 251,199.5 Q243.5,208 245,219.5 Q262,224.5 273,213 Q280.5,203.5 284,187.2 Z"/>
<path d="M307.5,226.3 Q279,229.5 266,243.5 Q256,256 254.5,276.5 Q280,279.5 293.5,264 Q303,251 307.5,226.3 Z"/>
</g>
<g fill="none" stroke="#013461" stroke-width="1" stroke-opacity="0.9">
<path d="M180,208 L236,239.5 M193,206 L203,220.5 M207,205 L218,229 M220,208.5 L229.5,235 M182,219 L200,219.5 M190,230 L213,226.5 M203,238.5 L226,234"/>
<path d="M282,189.5 L246.5,218 M272,189.5 L270,199.5 M262.5,193.5 L259,208 M254,199 L250.5,215 M281,198 L270.5,199.5 M276.5,208 L259.5,208 M268,216.5 L251,215"/>
<path d="M305.5,229 L256.5,275 M294,229.5 L291,242.5 M283,233.5 L278.5,254.5 M272.5,240.5 L266.5,266 M304,240.5 L291.5,242.5 M299.5,254.5 L279,254.5 M290.5,267 L266.5,266"/>
</g>
<g fill="#fff" fill-opacity="0.10">
<path fill-rule="evenodd" d="M364.4,60 H370.9 V76.5 L376,80.5 L379.2,92 L397.8,141 V166.5 H390 V150 L370.5,98 H364.8 L347,146.5 V167.5 H337 V140 L356.2,92 L359.3,80.5 L364.4,76.5 Z M367.6,82 a3.2,3.2 0 1,0 0.01,0 Z M341.8,141.8 a3,3 0 1,0 0.01,0 Z"/>
<path d="M336.6,169.5 H341.6 L340.6,182 L337.3,186 Z"/>
<path d="M396.2,169.5 H397.8 V184.5 H396.2 Z"/>
<path d="M351,117.2 H357.5 V119 H351 Z M378.5,117.2 H399 V119 H378.5 Z"/>
</g>
<clipPath id="cp"><circle cx="669.4" cy="210.7" r="82.7"/></clipPath>
<g opacity="0.22" clip-path="url(#cp)">
<mask id="pm" maskUnits="userSpaceOnUse" x="580" y="120" width="180" height="180"><rect x="580" y="120" width="180" height="180" fill="#000"/><g>
<g transform="translate(-75.5,0)"><path fill="none" stroke="#fff" stroke-width="2.1" d="M705.9,168.5 a7.8,7.4 0 0 1 15.6,0 v3.2 a7.8,8.6 0 0 1 -15.6,0 Z"/><path fill="#fff" d="M697.6,162.6 L713,155.1 L729.1,161.5 L721.8,164.6 Q713.8,159.8 705.6,164.9 L700.7,164.1 V172.5 H699.1 V163.4 Z"/><path fill="#fff" d="M680.5,188.2 L704.5,181.2 Q708.5,180.6 710,184 L712.2,200 L716.2,238.6 L673.2,238.6 L686.5,206 L688.2,194.5 Z"/><path fill="none" stroke="#fff" stroke-width="7" stroke-linecap="round" d="M680.3,191.8 L678.4,210.8"/><path fill="none" stroke="#fff" stroke-width="7" stroke-linecap="round" d="M706.5,185 L727.3,216.3"/><path fill="none" stroke="#fff" stroke-width="10.5" stroke-linecap="round" d="M686.5,238 L675.3,261.5"/><path fill="none" stroke="#fff" stroke-width="11.5" stroke-linecap="round" d="M710.2,237 L711.2,262.6"/></g>
<g transform="translate(0.0,0)"><circle cx="713.7" cy="171.8" r="8.5" fill="none" stroke="#fff" stroke-width="2.4"/><path fill="#fff" d="M680.5,188.2 L704.5,181.2 Q708.5,180.6 710,184 L712.2,200 L716.2,238.6 L673.2,238.6 L686.5,206 L688.2,194.5 Z"/><path fill="none" stroke="#fff" stroke-width="7" stroke-linecap="round" d="M680.3,191.8 L678.4,210.8"/><path fill="none" stroke="#fff" stroke-width="7" stroke-linecap="round" d="M706.5,185 L727.3,216.3"/><path fill="none" stroke="#fff" stroke-width="10.5" stroke-linecap="round" d="M686.5,238 L675.3,261.5"/><path fill="none" stroke="#fff" stroke-width="11.5" stroke-linecap="round" d="M710.2,237 L711.2,262.6"/></g>
<g transform="rotate(-20 738.2 231.8)"><rect x="721.7" y="219.8" width="33.5" height="24.5" rx="2.5" fill="#fff"/><path d="M730.5,219.8 v-3.8 h10 v3.8" fill="none" stroke="#fff" stroke-width="1.8"/><path d="M727.2,219.8 V244 M730.6,219.8 V244" stroke="#000" stroke-width="0.8"/></g>
</g></mask>
<rect x="580" y="120" width="180" height="180" fill="#fff" mask="url(#pm)"/>
</g>
<g fill="#fff" fill-opacity="0.25">
<path d="M642.9,384.5 L645.5,382.5 H792.5 L795.1,384.5 V389.4 H642.9 Z"/>
<path d="M653.8,389.4 H785.2 V412.7 H772.8 V399 Q719.5,380.5 666.2,399 V412.7 H653.8 Z"/>
<path d="M653.8,382.5 Q719,326 785.2,382.5 H776 Q719,338.5 663,382.5 Z"/>
</g>
<path d="M673.4,375.4 L676.0,382.5 M678.0,372.6 L680.3,382.5 M682.5,370.1 L684.6,382.5 M687.1,367.9 L688.9,382.5 M691.7,366.0 L693.2,382.5 M696.2,364.4 L697.5,382.5 M700.8,363.0 L701.8,382.5 M705.3,362.0 L706.1,382.5 M709.9,361.2 L710.4,382.5 M714.4,360.8 L714.7,382.5 M719.0,360.6 L719.0,382.5 M723.6,360.7 L723.3,382.5 M728.1,361.1 L727.6,382.5 M732.7,361.8 L731.9,382.5 M737.2,362.8 L736.2,382.5 M741.8,364.1 L740.5,382.5 M746.3,365.6 L744.8,382.5 M750.9,367.5 L749.1,382.5 M755.5,369.6 L753.4,382.5 M760.0,372.0 L757.7,382.5 M764.6,374.7 L762.0,382.5" stroke="#fff" stroke-opacity="0.25" stroke-width="1.5" fill="none"/>
<g font-family="'Liberation Sans', sans-serif" mask="url(#tm)" stroke-linejoin="round">
<text y="400.90" font-size="16.13" fill="#08305f" stroke="#08305f" stroke-width="0.70"><tspan x="78.06" textLength="56.47" lengthAdjust="spacingAndGlyphs">Phoenix</tspan> <tspan x="139.90" textLength="72.00" lengthAdjust="spacingAndGlyphs">Internship</tspan></text>
<text y="422.40" font-size="16.13" fill="#08305f" stroke="#08305f" stroke-width="0.70"><tspan x="115.62" textLength="58.98" lengthAdjust="spacingAndGlyphs">Program</tspan></text>
<text y="228.20" font-size="17.51" fill="#ffffff" stroke="#ffffff" stroke-width="0.55"><tspan x="190.29" textLength="43.36" lengthAdjust="spacingAndGlyphs">Seeds</tspan> <tspan x="238.38" textLength="59.48" lengthAdjust="spacingAndGlyphs">Student</tspan></text>
<text y="250.60" font-size="17.37" fill="#ffffff" stroke="#ffffff" stroke-width="0.55"><tspan x="183.42" textLength="52.73" lengthAdjust="spacingAndGlyphs">Worker</tspan> <tspan x="242.10" textLength="64.08" lengthAdjust="spacingAndGlyphs">Program</tspan></text>
<text y="113.00" font-size="14.97" fill="#08305f" stroke="#08305f" stroke-width="0.70"><tspan x="306.82" textLength="30.13" lengthAdjust="spacingAndGlyphs">Grad</tspan> <tspan x="341.94" textLength="55.58" lengthAdjust="spacingAndGlyphs">Engineer</tspan> <tspan x="401.65" textLength="21.87" lengthAdjust="spacingAndGlyphs">and</tspan></text>
<text y="130.00" font-size="14.97" fill="#08305f" stroke="#08305f" stroke-width="0.70"><tspan x="293.45" textLength="29.85" lengthAdjust="spacingAndGlyphs">Land</tspan> <tspan x="327.70" textLength="55.54" lengthAdjust="spacingAndGlyphs">Surveyor</tspan> <tspan x="388.25" textLength="53.00" lengthAdjust="spacingAndGlyphs">Program</tspan></text>
<text transform="translate(530.00,92.30) scale(0.870,1)" font-size="11.48" font-weight="normal" textLength="60.00" lengthAdjust="spacing" fill="#1c3a5f" stroke="#1c3a5f" stroke-width="0.80" stroke-linejoin="round">ENDLESS</text>
<text transform="translate(508.00,107.20) scale(0.870,1)" font-size="11.48" font-weight="normal" textLength="109.42" lengthAdjust="spacing" fill="#1c3a5f" stroke="#1c3a5f" stroke-width="0.80" stroke-linejoin="round">OPPORTUNITIES</text>
<text y="215.30" font-size="16.64" fill="#ffffff" stroke="#ffffff" stroke-width="0.55"><tspan x="603.50" textLength="65.70" lengthAdjust="spacingAndGlyphs">MnROW</tspan> <tspan x="674.60" textLength="60.44" lengthAdjust="spacingAndGlyphs">Program</tspan></text>
<text y="382.90" font-size="16.42" fill="#08305f" stroke="#08305f" stroke-width="0.70"><tspan x="658.85" textLength="32.14" lengthAdjust="spacingAndGlyphs">Civil</tspan> <tspan x="695.88" textLength="85.26" lengthAdjust="spacingAndGlyphs">Engineering</tspan></text>
<text y="400.60" font-size="16.42" fill="#08305f" stroke="#08305f" stroke-width="0.70"><tspan x="651.10" textLength="72.30" lengthAdjust="spacingAndGlyphs">Internship</tspan> <tspan x="729.21" textLength="59.87" lengthAdjust="spacingAndGlyphs">Program</tspan></text>
</g>
</svg>
</body></html>
